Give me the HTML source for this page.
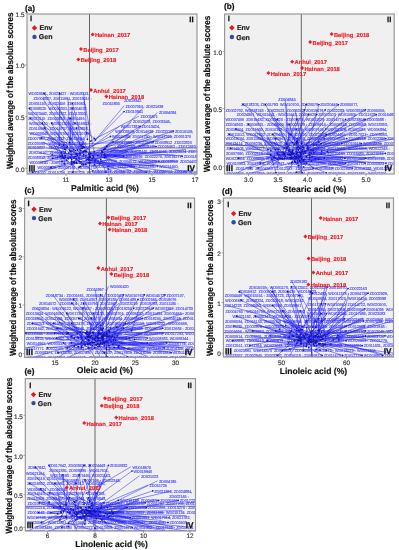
<!DOCTYPE html>
<html><head><meta charset="utf-8"><style>html,body{margin:0;padding:0;background:#fff;}svg{display:block}</style></head>
<body><svg width="399" height="550" viewBox="0 0 399 550" text-rendering="geometricPrecision" style="will-change:transform">
<rect width="399" height="550" fill="#fff"/>
<rect x="27" y="14" width="170.0" height="160.0" fill="#f0f0f0"/>
<line x1="89.5" y1="14" x2="89.5" y2="174" stroke="#666" stroke-width="1.0"/>
<line x1="27" y1="148" x2="197" y2="148" stroke="#8a8a80" stroke-width="1"/>
<svg x="27" y="14" width="170.0" height="160.0" viewBox="27 14 170.0 160.0" overflow="hidden">
<g font-family='"Liberation Sans", sans-serif' font-size="4.1" fill="#4a4aff" stroke="#4a4aff" stroke-width="0.14" transform="scale(0.91 1)">
<text x="136.3" y="102.1">ZD019342</text>
<text x="112.6" y="105.1">ZD015805</text>
<text x="138.0" y="107.5">ZD007050</text>
<text x="160.4" y="108.3">ZD021639</text>
<text x="174.7" y="114.3">ZD004084</text>
<text x="138.0" y="113.2">ZD010941</text>
<text x="154.4" y="117.8">ZD003971</text>
<text x="31.4" y="95.1">WD020511, </text>
<text x="53.9" y="95.1">ZD022427 - </text>
<text x="76.7" y="95.1">WD018313, </text>
<text x="36.9" y="100.0">ZD008927, </text>
<text x="58.4" y="100.0">ZD011691, </text>
<text x="79.5" y="100.0">ZD018010 - </text>
<text x="31.6" y="105.1">ZD001150, </text>
<text x="52.7" y="105.1">ZD022456  </text>
<text x="74.2" y="105.1">ZD019063, </text>
<text x="31.8" y="110.0">ZD008525  </text>
<text x="53.2" y="110.0">WD003301, </text>
<text x="76.0" y="110.0">ZD004532  </text>
<text x="31.1" y="115.4">WD023442, </text>
<text x="53.9" y="115.4">ZD007872, </text>
<text x="75.3" y="115.4">ZD013303, </text>
<text x="31.1" y="120.0">ZD023115  </text>
<text x="52.3" y="120.0">ZD003855  </text>
<text x="73.7" y="120.0">ZD001496, </text>
<text x="31.9" y="124.9">WD005410 - </text>
<text x="56.0" y="124.9">WD001358, </text>
<text x="78.8" y="124.9">ZD016952 - </text>
<text x="31.7" y="129.8">ZD015661 - </text>
<text x="54.5" y="129.8">ZD014737, </text>
<text x="75.9" y="129.8">WD013938, </text>
<text x="32.4" y="134.7">WD009840  </text>
<text x="55.2" y="134.7">WD007904 - </text>
<text x="79.3" y="134.7">ZD020726, </text>
<text x="30.3" y="139.6">ZD007987, </text>
<text x="51.7" y="139.6">ZD001313  </text>
<text x="73.2" y="139.6">ZD013654, </text>
<text x="30.4" y="144.5">ZD020095 - </text>
<text x="53.2" y="144.5">WD020702  </text>
<text x="76.0" y="144.5">ZD021386, </text>
<text x="30.5" y="149.4">ZD019827 - </text>
<text x="53.3" y="149.4">ZD006990 - </text>
<text x="76.1" y="149.4">ZD008483 - </text>
<text x="31.8" y="154.3">ZD021610 - </text>
<text x="54.6" y="154.3">ZD016811, </text>
<text x="75.7" y="154.3">ZD002553, </text>
<text x="30.5" y="159.2">ZD008812, </text>
<text x="51.9" y="159.2">ZD014789, </text>
<text x="73.3" y="159.2">ZD018041 - </text>
<text x="32.3" y="164.1">WD005141 - </text>
<text x="56.4" y="164.1">ZD019329, </text>
<text x="77.8" y="164.1">ZD007959 - </text>
<text x="41.2" y="169.0">WD009820, </text>
<text x="64.0" y="169.0">ZD009161, </text>
<text x="85.4" y="169.0">WD006775  </text>
<text x="31.0" y="173.9">ZD004020  </text>
<text x="52.5" y="173.9">ZD015756  </text>
<text x="73.9" y="173.9">ZD020329, </text>
<text x="95.3" y="173.9">WD016558  </text>
<text x="118.1" y="173.9">ZD002099, </text>
<text x="139.5" y="173.9">WD016801, </text>
<text x="162.3" y="173.9">ZD011449 - </text>
<text x="184.8" y="173.9">WD003466, </text>
<text x="207.6" y="173.9">ZD002457 - </text>
<text x="146.1" y="123.2">ZD012528, </text>
<text x="167.6" y="123.2">ZD003545, </text>
<text x="132.8" y="128.0">WD017381, </text>
<text x="155.6" y="128.0">ZD013424, </text>
<text x="126.6" y="132.7">WD003970, </text>
<text x="149.4" y="132.7">ZD014639  </text>
<text x="170.8" y="132.7">ZD023746, </text>
<text x="192.2" y="132.7">ZD016159, </text>
<text x="123.1" y="138.1">WD011165, </text>
<text x="145.3" y="138.1">ZD001730 - </text>
<text x="168.1" y="138.1">WD017293, </text>
<text x="190.9" y="138.1">ZD001370  </text>
<text x="125.9" y="143.5">ZD017986 - </text>
<text x="148.7" y="143.5">ZD022626, </text>
<text x="170.1" y="143.5">ZD008912  </text>
<text x="191.6" y="143.5">ZD022820  </text>
<text x="129.0" y="148.2">ZD007563 - </text>
<text x="151.8" y="148.2">ZD008195  </text>
<text x="173.2" y="148.2">ZD005462 - </text>
<text x="196.0" y="148.2">ZD012493, </text>
<text x="121.3" y="153.0">ZD006542, </text>
<text x="142.8" y="153.0">ZD016445  </text>
<text x="164.2" y="153.0">ZD014565, </text>
<text x="185.6" y="153.0">ZD023024  </text>
<text x="207.0" y="153.0">ZD011497, </text>
<text x="116.1" y="157.9">ZD020908, </text>
<text x="137.5" y="157.9">ZD019696  </text>
<text x="159.0" y="157.9">ZD022275, </text>
<text x="180.4" y="157.9">ZD014277, </text>
<text x="201.8" y="157.9">ZD001810  </text>
<text x="109.3" y="162.8">ZD002538, </text>
<text x="130.7" y="162.8">ZD004572  </text>
<text x="152.2" y="162.8">WD023429 - </text>
<text x="176.3" y="162.8">ZD016569  </text>
<text x="197.7" y="162.8">ZD024403, </text>
<text x="105.0" y="167.7">WD006868 - </text>
<text x="129.1" y="167.7">ZD012329 - </text>
<text x="151.9" y="167.7">ZD023930 - </text>
<text x="174.7" y="167.7">WD014450, </text>
<text x="103.6" y="172.5">ZD007451, </text>
<text x="125.0" y="172.5">ZD019022  </text>
<text x="146.4" y="172.5">ZD011697 - </text>
<text x="168.9" y="172.5">WD024656, </text>
<text x="191.7" y="172.5">ZD008939, </text>
</g>
<g stroke="#2020ff" stroke-width="0.5" stroke-opacity="1.0">
<line x1="95.4" y1="139.9" x2="124.1" y2="105.8"/>
<line x1="101.7" y1="150.9" x2="144.5" y2="106.6"/>
<line x1="104.5" y1="157.7" x2="157.5" y2="112.6"/>
<line x1="73.5" y1="162.3" x2="124.1" y2="111.5"/>
<line x1="90.8" y1="141.1" x2="139.0" y2="116.1"/>
<line x1="82.1" y1="148.5" x2="44.1" y2="93.4"/>
<line x1="59.2" y1="145.2" x2="59.6" y2="93.4"/>
<line x1="87.4" y1="139.3" x2="83.8" y2="93.4"/>
<line x1="79.9" y1="153.2" x2="42.6" y2="98.3"/>
<line x1="69.5" y1="142.5" x2="68.0" y2="98.3"/>
<line x1="94.2" y1="151.9" x2="83.8" y2="98.3"/>
<line x1="82.2" y1="146.8" x2="55.4" y2="103.4"/>
<line x1="83.7" y1="146.8" x2="72.4" y2="103.4"/>
<line x1="73.5" y1="149.6" x2="29.3" y2="108.3"/>
<line x1="95.9" y1="160.0" x2="58.7" y2="108.3"/>
<line x1="69.7" y1="150.6" x2="72.2" y2="108.3"/>
<line x1="76.1" y1="154.2" x2="30.9" y2="113.7"/>
<line x1="81.0" y1="145.2" x2="58.6" y2="113.7"/>
<line x1="71.4" y1="163.9" x2="73.4" y2="113.7"/>
<line x1="79.2" y1="161.4" x2="30.4" y2="118.3"/>
<line x1="80.0" y1="150.1" x2="54.1" y2="118.3"/>
<line x1="70.8" y1="138.6" x2="70.2" y2="118.3"/>
<line x1="62.5" y1="155.0" x2="42.3" y2="123.2"/>
<line x1="65.5" y1="149.6" x2="51.6" y2="123.2"/>
<line x1="94.3" y1="138.3" x2="75.1" y2="123.2"/>
<line x1="60.4" y1="156.0" x2="44.6" y2="128.1"/>
<line x1="75.4" y1="150.5" x2="56.3" y2="128.1"/>
<line x1="80.9" y1="150.5" x2="76.6" y2="128.1"/>
<line x1="84.3" y1="147.5" x2="29.7" y2="133.0"/>
<line x1="66.6" y1="147.5" x2="57.3" y2="133.0"/>
<line x1="82.5" y1="144.6" x2="86.4" y2="133.0"/>
<line x1="67.3" y1="146.4" x2="41.3" y2="137.9"/>
<line x1="77.3" y1="155.1" x2="52.4" y2="137.9"/>
<line x1="77.5" y1="150.1" x2="81.3" y2="137.9"/>
<line x1="64.4" y1="149.1" x2="44.2" y2="142.8"/>
<line x1="80.9" y1="161.8" x2="42.8" y2="142.2"/>
<line x1="80.0" y1="154.7" x2="54.6" y2="142.8"/>
<line x1="65.2" y1="152.1" x2="49.8" y2="147.7"/>
<line x1="65.4" y1="157.0" x2="61.6" y2="145.9"/>
<line x1="68.3" y1="158.6" x2="38.9" y2="152.6"/>
<line x1="90.4" y1="157.2" x2="45.6" y2="151.1"/>
<line x1="62.0" y1="161.3" x2="61.3" y2="152.6"/>
<line x1="52.7" y1="158.3" x2="87.1" y2="151.4"/>
<line x1="68.7" y1="153.2" x2="42.3" y2="157.5"/>
<line x1="73.9" y1="157.9" x2="56.9" y2="157.5"/>
<line x1="70.6" y1="157.8" x2="59.1" y2="156.7"/>
<line x1="52.1" y1="154.8" x2="79.6" y2="157.5"/>
<line x1="84.4" y1="150.9" x2="74.6" y2="157.2"/>
<line x1="62.3" y1="155.9" x2="41.4" y2="162.4"/>
<line x1="102.5" y1="151.9" x2="39.8" y2="162.3"/>
<line x1="66.7" y1="160.2" x2="55.6" y2="162.4"/>
<line x1="65.1" y1="155.6" x2="58.4" y2="161.7"/>
<line x1="71.8" y1="163.5" x2="74.3" y2="162.4"/>
<line x1="83.7" y1="154.6" x2="88.8" y2="161.5"/>
<line x1="64.4" y1="163.8" x2="50.9" y2="167.3"/>
<line x1="71.7" y1="159.3" x2="72.6" y2="167.3"/>
<line x1="64.0" y1="158.5" x2="65.2" y2="166.3"/>
<line x1="85.9" y1="164.2" x2="79.0" y2="167.3"/>
<line x1="76.8" y1="163.2" x2="32.6" y2="172.2"/>
<line x1="89.5" y1="156.7" x2="43.8" y2="171.2"/>
<line x1="76.3" y1="162.4" x2="60.3" y2="172.2"/>
<line x1="74.2" y1="161.9" x2="72.9" y2="172.2"/>
<line x1="63.4" y1="157.5" x2="80.8" y2="171.7"/>
<line x1="89.2" y1="154.4" x2="99.3" y2="172.2"/>
<line x1="100.7" y1="159.5" x2="106.0" y2="172.2"/>
<line x1="94.9" y1="161.2" x2="125.5" y2="172.2"/>
<line x1="86.0" y1="151.3" x2="142.4" y2="170.4"/>
<line x1="97.8" y1="155.8" x2="146.2" y2="172.2"/>
<line x1="88.9" y1="160.3" x2="167.7" y2="171.4"/>
<line x1="115.1" y1="156.0" x2="187.4" y2="172.2"/>
<line x1="103.7" y1="149.8" x2="131.5" y2="121.5"/>
<line x1="85.7" y1="151.2" x2="119.4" y2="126.3"/>
<line x1="92.9" y1="155.7" x2="140.1" y2="126.3"/>
<line x1="90.5" y1="153.8" x2="134.5" y2="131.0"/>
<line x1="104.7" y1="154.2" x2="154.0" y2="131.0"/>
<line x1="93.5" y1="157.2" x2="173.4" y2="131.0"/>
<line x1="76.9" y1="154.0" x2="110.5" y2="136.4"/>
<line x1="70.7" y1="151.5" x2="128.8" y2="134.9"/>
<line x1="105.1" y1="148.4" x2="130.7" y2="136.4"/>
<line x1="102.2" y1="152.3" x2="151.5" y2="136.4"/>
<line x1="94.2" y1="164.8" x2="166.8" y2="135.3"/>
<line x1="104.1" y1="155.0" x2="172.2" y2="136.4"/>
<line x1="88.5" y1="157.7" x2="113.1" y2="141.8"/>
<line x1="63.4" y1="144.8" x2="133.8" y2="141.8"/>
<line x1="106.8" y1="146.2" x2="151.7" y2="139.7"/>
<line x1="81.8" y1="164.2" x2="153.3" y2="141.8"/>
<line x1="80.1" y1="163.0" x2="115.9" y2="146.5"/>
<line x1="71.1" y1="154.9" x2="135.6" y2="144.8"/>
<line x1="92.6" y1="158.5" x2="148.2" y2="144.6"/>
<line x1="88.8" y1="153.8" x2="156.1" y2="146.5"/>
<line x1="71.4" y1="161.7" x2="108.9" y2="151.3"/>
<line x1="105.0" y1="156.2" x2="128.4" y2="151.3"/>
<line x1="86.1" y1="160.0" x2="140.9" y2="150.3"/>
<line x1="83.3" y1="164.7" x2="158.0" y2="150.7"/>
<line x1="105.8" y1="156.8" x2="186.0" y2="149.4"/>
<line x1="85.9" y1="155.5" x2="199.6" y2="150.9"/>
<line x1="91.0" y1="160.5" x2="104.2" y2="156.2"/>
<line x1="83.0" y1="151.7" x2="123.7" y2="156.2"/>
<line x1="87.4" y1="159.4" x2="136.6" y2="154.1"/>
<line x1="89.5" y1="155.0" x2="174.5" y2="154.8"/>
<line x1="104.8" y1="149.5" x2="182.1" y2="156.2"/>
<line x1="75.3" y1="156.4" x2="98.0" y2="161.1"/>
<line x1="101.5" y1="155.0" x2="158.9" y2="161.1"/>
<line x1="80.2" y1="166.4" x2="174.2" y2="160.4"/>
<line x1="108.0" y1="166.3" x2="178.4" y2="161.1"/>
<line x1="78.9" y1="158.4" x2="94.0" y2="166.0"/>
<line x1="99.6" y1="163.7" x2="116.0" y2="166.0"/>
<line x1="89.0" y1="162.9" x2="132.0" y2="165.6"/>
<line x1="108.2" y1="169.1" x2="136.7" y2="166.0"/>
<line x1="90.4" y1="162.5" x2="154.2" y2="165.4"/>
<line x1="89.3" y1="162.5" x2="157.5" y2="166.0"/>
<line x1="76.1" y1="158.9" x2="92.8" y2="170.8"/>
<line x1="88.4" y1="159.2" x2="112.3" y2="170.8"/>
<line x1="83.2" y1="156.0" x2="131.7" y2="170.8"/>
</g>
<g fill="#1414a8">
<circle cx="95.4" cy="139.9" r="0.85"/>
<circle cx="101.7" cy="150.9" r="0.85"/>
<circle cx="104.5" cy="157.7" r="0.85"/>
<circle cx="124.1" cy="111.5" r="0.85"/>
<circle cx="73.5" cy="162.3" r="0.85"/>
<circle cx="90.8" cy="141.1" r="0.85"/>
<circle cx="44.1" cy="93.4" r="0.85"/>
<circle cx="82.1" cy="148.5" r="0.85"/>
<circle cx="59.6" cy="93.4" r="0.85"/>
<circle cx="59.2" cy="145.2" r="0.85"/>
<circle cx="87.4" cy="139.3" r="0.85"/>
<circle cx="79.9" cy="153.2" r="0.85"/>
<circle cx="69.5" cy="142.5" r="0.85"/>
<circle cx="94.2" cy="151.9" r="0.85"/>
<circle cx="82.2" cy="146.8" r="0.85"/>
<circle cx="72.4" cy="103.4" r="0.85"/>
<circle cx="83.7" cy="146.8" r="0.85"/>
<circle cx="29.3" cy="108.3" r="0.85"/>
<circle cx="73.5" cy="149.6" r="0.85"/>
<circle cx="95.9" cy="160.0" r="0.85"/>
<circle cx="72.2" cy="108.3" r="0.85"/>
<circle cx="69.7" cy="150.6" r="0.85"/>
<circle cx="76.1" cy="154.2" r="0.85"/>
<circle cx="81.0" cy="145.2" r="0.85"/>
<circle cx="71.4" cy="163.9" r="0.85"/>
<circle cx="30.4" cy="118.3" r="0.85"/>
<circle cx="79.2" cy="161.4" r="0.85"/>
<circle cx="80.0" cy="150.1" r="0.85"/>
<circle cx="70.2" cy="118.3" r="0.85"/>
<circle cx="70.8" cy="138.6" r="0.85"/>
<circle cx="42.3" cy="123.2" r="0.85"/>
<circle cx="62.5" cy="155.0" r="0.85"/>
<circle cx="51.6" cy="123.2" r="0.85"/>
<circle cx="65.5" cy="149.6" r="0.85"/>
<circle cx="75.1" cy="123.2" r="0.85"/>
<circle cx="94.3" cy="138.3" r="0.85"/>
<circle cx="44.6" cy="128.1" r="0.85"/>
<circle cx="60.4" cy="156.0" r="0.85"/>
<circle cx="75.4" cy="150.5" r="0.85"/>
<circle cx="76.6" cy="128.1" r="0.85"/>
<circle cx="80.9" cy="150.5" r="0.85"/>
<circle cx="84.3" cy="147.5" r="0.85"/>
<circle cx="66.6" cy="147.5" r="0.85"/>
<circle cx="86.4" cy="133.0" r="0.85"/>
<circle cx="82.5" cy="144.6" r="0.85"/>
<circle cx="41.3" cy="137.9" r="0.85"/>
<circle cx="67.3" cy="146.4" r="0.85"/>
<circle cx="77.3" cy="155.1" r="0.85"/>
<circle cx="77.5" cy="150.1" r="0.85"/>
<circle cx="64.4" cy="149.1" r="0.85"/>
<circle cx="80.9" cy="161.8" r="0.85"/>
<circle cx="80.0" cy="154.7" r="0.85"/>
<circle cx="65.2" cy="152.1" r="0.85"/>
<circle cx="65.4" cy="157.0" r="0.85"/>
<circle cx="68.3" cy="158.6" r="0.85"/>
<circle cx="90.4" cy="157.2" r="0.85"/>
<circle cx="61.3" cy="152.6" r="0.85"/>
<circle cx="62.0" cy="161.3" r="0.85"/>
<circle cx="52.7" cy="158.3" r="0.85"/>
<circle cx="68.7" cy="153.2" r="0.85"/>
<circle cx="73.9" cy="157.9" r="0.85"/>
<circle cx="70.6" cy="157.8" r="0.85"/>
<circle cx="52.1" cy="154.8" r="0.85"/>
<circle cx="84.4" cy="150.9" r="0.85"/>
<circle cx="62.3" cy="155.9" r="0.85"/>
<circle cx="102.5" cy="151.9" r="0.85"/>
<circle cx="66.7" cy="160.2" r="0.85"/>
<circle cx="65.1" cy="155.6" r="0.85"/>
<circle cx="74.3" cy="162.4" r="0.85"/>
<circle cx="71.8" cy="163.5" r="0.85"/>
<circle cx="83.7" cy="154.6" r="0.85"/>
<circle cx="50.9" cy="167.3" r="0.85"/>
<circle cx="64.4" cy="163.8" r="0.85"/>
<circle cx="71.7" cy="159.3" r="0.85"/>
<circle cx="64.0" cy="158.5" r="0.85"/>
<circle cx="79.0" cy="167.3" r="0.85"/>
<circle cx="85.9" cy="164.2" r="0.85"/>
<circle cx="32.6" cy="172.2" r="0.85"/>
<circle cx="76.8" cy="163.2" r="0.85"/>
<circle cx="89.5" cy="156.7" r="0.85"/>
<circle cx="76.3" cy="162.4" r="0.85"/>
<circle cx="72.9" cy="172.2" r="0.85"/>
<circle cx="74.2" cy="161.9" r="0.85"/>
<circle cx="63.4" cy="157.5" r="0.85"/>
<circle cx="89.2" cy="154.4" r="0.85"/>
<circle cx="106.0" cy="172.2" r="0.85"/>
<circle cx="100.7" cy="159.5" r="0.85"/>
<circle cx="94.9" cy="161.2" r="0.85"/>
<circle cx="86.0" cy="151.3" r="0.85"/>
<circle cx="146.2" cy="172.2" r="0.85"/>
<circle cx="97.8" cy="155.8" r="0.85"/>
<circle cx="88.9" cy="160.3" r="0.85"/>
<circle cx="115.1" cy="156.0" r="0.85"/>
<circle cx="103.7" cy="149.8" r="0.85"/>
<circle cx="85.7" cy="151.2" r="0.85"/>
<circle cx="140.1" cy="126.3" r="0.85"/>
<circle cx="92.9" cy="155.7" r="0.85"/>
<circle cx="90.5" cy="153.8" r="0.85"/>
<circle cx="104.7" cy="154.2" r="0.85"/>
<circle cx="173.4" cy="131.0" r="0.85"/>
<circle cx="93.5" cy="157.2" r="0.85"/>
<circle cx="110.5" cy="136.4" r="0.85"/>
<circle cx="76.9" cy="154.0" r="0.85"/>
<circle cx="70.7" cy="151.5" r="0.85"/>
<circle cx="105.1" cy="148.4" r="0.85"/>
<circle cx="102.2" cy="152.3" r="0.85"/>
<circle cx="94.2" cy="164.8" r="0.85"/>
<circle cx="104.1" cy="155.0" r="0.85"/>
<circle cx="113.1" cy="141.8" r="0.85"/>
<circle cx="88.5" cy="157.7" r="0.85"/>
<circle cx="63.4" cy="144.8" r="0.85"/>
<circle cx="106.8" cy="146.2" r="0.85"/>
<circle cx="153.3" cy="141.8" r="0.85"/>
<circle cx="81.8" cy="164.2" r="0.85"/>
<circle cx="80.1" cy="163.0" r="0.85"/>
<circle cx="71.1" cy="154.9" r="0.85"/>
<circle cx="92.6" cy="158.5" r="0.85"/>
<circle cx="156.1" cy="146.5" r="0.85"/>
<circle cx="88.8" cy="153.8" r="0.85"/>
<circle cx="71.4" cy="161.7" r="0.85"/>
<circle cx="105.0" cy="156.2" r="0.85"/>
<circle cx="86.1" cy="160.0" r="0.85"/>
<circle cx="83.3" cy="164.7" r="0.85"/>
<circle cx="105.8" cy="156.8" r="0.85"/>
<circle cx="85.9" cy="155.5" r="0.85"/>
<circle cx="91.0" cy="160.5" r="0.85"/>
<circle cx="123.7" cy="156.2" r="0.85"/>
<circle cx="83.0" cy="151.7" r="0.85"/>
<circle cx="87.4" cy="159.4" r="0.85"/>
<circle cx="89.5" cy="155.0" r="0.85"/>
<circle cx="182.1" cy="156.2" r="0.85"/>
<circle cx="104.8" cy="149.5" r="0.85"/>
<circle cx="98.0" cy="161.1" r="0.85"/>
<circle cx="75.3" cy="156.4" r="0.85"/>
<circle cx="158.9" cy="161.1" r="0.85"/>
<circle cx="101.5" cy="155.0" r="0.85"/>
<circle cx="80.2" cy="166.4" r="0.85"/>
<circle cx="108.0" cy="166.3" r="0.85"/>
<circle cx="78.9" cy="158.4" r="0.85"/>
<circle cx="99.6" cy="163.7" r="0.85"/>
<circle cx="89.0" cy="162.9" r="0.85"/>
<circle cx="108.2" cy="169.1" r="0.85"/>
<circle cx="90.4" cy="162.5" r="0.85"/>
<circle cx="157.5" cy="166.0" r="0.85"/>
<circle cx="89.3" cy="162.5" r="0.85"/>
<circle cx="92.8" cy="170.8" r="0.85"/>
<circle cx="76.1" cy="158.9" r="0.85"/>
<circle cx="88.4" cy="159.2" r="0.85"/>
<circle cx="83.2" cy="156.0" r="0.85"/>
</g>
</svg>
<rect x="27" y="14" width="170.0" height="160.0" fill="none" stroke="#959595" stroke-width="1.15"/>
<path d="M92.6 32.4L94.6 34.4L92.6 36.4L90.6 34.4Z" fill="#ee1c24"/>
<text x="94.89999999999999" y="37.0" font-family='"Liberation Sans", sans-serif' font-weight="bold" font-size="5.8" fill="#ee1c24" stroke="#ee1c24" stroke-width="0.15">Hainan_2017</text>
<path d="M81 47.0L83.0 49L81 51.0L79.0 49Z" fill="#ee1c24"/>
<text x="83.3" y="51.6" font-family='"Liberation Sans", sans-serif' font-weight="bold" font-size="5.8" fill="#ee1c24" stroke="#ee1c24" stroke-width="0.15">Beijing_2017</text>
<path d="M78.4 57.4L80.4 59.4L78.4 61.4L76.4 59.4Z" fill="#ee1c24"/>
<text x="80.7" y="62.0" font-family='"Liberation Sans", sans-serif' font-weight="bold" font-size="5.8" fill="#ee1c24" stroke="#ee1c24" stroke-width="0.15">Beijing_2018</text>
<path d="M91 88.0L93.0 90L91 92.0L89.0 90Z" fill="#ee1c24"/>
<text x="93.3" y="92.6" font-family='"Liberation Sans", sans-serif' font-weight="bold" font-size="5.8" fill="#ee1c24" stroke="#ee1c24" stroke-width="0.15">Anhui_2017</text>
<path d="M106.4 94.6L108.4 96.6L106.4 98.6L104.4 96.6Z" fill="#ee1c24"/>
<text x="108.7" y="99.19999999999999" font-family='"Liberation Sans", sans-serif' font-weight="bold" font-size="5.8" fill="#ee1c24" stroke="#ee1c24" stroke-width="0.15">Hainan_2018</text>
<text x="29.9" y="21.4" font-size="7.6" font-family='"Liberation Sans", sans-serif' font-weight="bold" fill="#111" stroke="#111" stroke-width="0.25">I</text>
<text x="193.6" y="21.5" text-anchor="end" font-size="7.6" font-family='"Liberation Sans", sans-serif' font-weight="bold" fill="#111" stroke="#111" stroke-width="0.25">II</text>
<text x="28.5" y="171" font-size="8.2" font-family='"Liberation Sans", sans-serif' font-weight="bold" fill="#111" stroke="#111" stroke-width="0.25">III</text>
<text x="195" y="171" text-anchor="end" font-size="8.2" font-family='"Liberation Sans", sans-serif' font-weight="bold" fill="#111" stroke="#111" stroke-width="0.25">IV</text>
<path d="M34.5 25.2L37.2 27.9L34.5 30.599999999999998L31.8 27.9Z" fill="#e8141c"/>
<text x="39.5" y="30.4" font-family='"Liberation Sans", sans-serif' font-weight="bold" font-size="7" fill="#222" stroke="#222" stroke-width="0.2">Env</text>
<circle cx="34.5" cy="36.9" r="2.2" fill="#2b4ba6"/>
<text x="38.8" y="39.4" font-family='"Liberation Sans", sans-serif' font-weight="bold" font-size="7" fill="#222" stroke="#222" stroke-width="0.2">Gen</text>
<line x1="66" y1="174" x2="66" y2="176" stroke="#777" stroke-width="0.6"/>
<text x="66" y="181.8" text-anchor="middle" font-family='"Liberation Sans", sans-serif' font-size="6.4" fill="#404040" stroke="#404040" stroke-width="0.2">11</text>
<line x1="109" y1="174" x2="109" y2="176" stroke="#777" stroke-width="0.6"/>
<text x="109" y="181.8" text-anchor="middle" font-family='"Liberation Sans", sans-serif' font-size="6.4" fill="#404040" stroke="#404040" stroke-width="0.2">13</text>
<line x1="152" y1="174" x2="152" y2="176" stroke="#777" stroke-width="0.6"/>
<text x="152" y="181.8" text-anchor="middle" font-family='"Liberation Sans", sans-serif' font-size="6.4" fill="#404040" stroke="#404040" stroke-width="0.2">15</text>
<line x1="195" y1="174" x2="195" y2="176" stroke="#777" stroke-width="0.6"/>
<text x="195" y="181.8" text-anchor="middle" font-family='"Liberation Sans", sans-serif' font-size="6.4" fill="#404040" stroke="#404040" stroke-width="0.2">17</text>
<line x1="25" y1="168.3" x2="27" y2="168.3" stroke="#777" stroke-width="0.6"/>
<text x="24.5" y="171.5" text-anchor="end" font-family='"Liberation Sans", sans-serif' font-size="6.4" fill="#404040" stroke="#404040" stroke-width="0.2">0.0</text>
<line x1="25" y1="116.65" x2="27" y2="116.65" stroke="#777" stroke-width="0.6"/>
<text x="24.5" y="119.85000000000001" text-anchor="end" font-family='"Liberation Sans", sans-serif' font-size="6.4" fill="#404040" stroke="#404040" stroke-width="0.2">0.5</text>
<line x1="25" y1="65" x2="27" y2="65" stroke="#777" stroke-width="0.6"/>
<text x="24.5" y="68.2" text-anchor="end" font-family='"Liberation Sans", sans-serif' font-size="6.4" fill="#404040" stroke="#404040" stroke-width="0.2">1.0</text>
<line x1="25" y1="13.4" x2="27" y2="13.4" stroke="#777" stroke-width="0.6"/>
<text x="24.5" y="16.6" text-anchor="end" font-family='"Liberation Sans", sans-serif' font-size="6.4" fill="#404040" stroke="#404040" stroke-width="0.2">1.5</text>
<text x="25" y="10.7" font-family='"Liberation Sans", sans-serif' font-weight="bold" font-size="8.2" fill="#111" stroke="#111" stroke-width="0.2">(a)</text>
<text x="105" y="190.5" text-anchor="middle" font-family='"Liberation Sans", sans-serif' font-weight="bold" font-size="8.55" fill="#111" stroke="#111" stroke-width="0.15">Palmitic acid (%)</text>
<text transform="translate(13.1 90.8) scale(1.12 1) rotate(-90)" text-anchor="middle" font-family='"Liberation Sans", sans-serif' font-weight="bold" font-size="8.05" fill="#111" stroke="#111" stroke-width="0.15">Weighted average of the absolute scores</text>
<rect x="224.6" y="14" width="169.6" height="160.0" fill="#f0f0f0"/>
<line x1="301.3" y1="14" x2="301.3" y2="174" stroke="#666" stroke-width="1.0"/>
<line x1="224.6" y1="145.5" x2="394.2" y2="145.5" stroke="#8a8a80" stroke-width="1"/>
<svg x="224.6" y="14" width="169.6" height="160.0" viewBox="224.6 14 169.6 160.0" overflow="hidden">
<g font-family='"Liberation Sans", sans-serif' font-size="4.1" fill="#4a4aff" stroke="#4a4aff" stroke-width="0.14" transform="scale(0.91 1)">
<text x="305.9" y="100.8">ZD004845</text>
<text x="265.0" y="106.2">ZD018203, </text>
<text x="286.4" y="106.2">ZD001793  </text>
<text x="307.8" y="106.2">WD010700, </text>
<text x="330.6" y="106.2">ZD020579  </text>
<text x="352.0" y="106.2">ZD020445, </text>
<text x="373.5" y="106.2">ZD005077, </text>
<text x="247.8" y="111.5">ZD002702, </text>
<text x="269.2" y="111.5">WD018243 - </text>
<text x="293.4" y="111.5">ZD022523, </text>
<text x="314.8" y="111.5">ZD003242  </text>
<text x="336.2" y="111.5">ZD019479 - </text>
<text x="359.0" y="111.5">ZD022283, </text>
<text x="380.4" y="111.5">WD003350, </text>
<text x="403.2" y="111.5">ZD005056, </text>
<text x="260.3" y="116.2">ZD024861  </text>
<text x="281.8" y="116.2">WD011641 - </text>
<text x="305.6" y="116.2">WD015443, </text>
<text x="328.4" y="116.2">ZD005629  </text>
<text x="349.8" y="116.2">ZD002503  </text>
<text x="371.2" y="116.2">WD015905  </text>
<text x="394.0" y="116.2">ZD011628, </text>
<text x="415.1" y="116.2">ZD016487 - </text>
<text x="247.7" y="121.1">WD007406  </text>
<text x="270.5" y="121.1">ZD016482, </text>
<text x="291.9" y="121.1">ZD021820 - </text>
<text x="314.7" y="121.1">ZD007275, </text>
<text x="336.1" y="121.1">WD011029  </text>
<text x="358.6" y="121.1">ZD014774 - </text>
<text x="381.4" y="121.1">ZD023804, </text>
<text x="402.8" y="121.1">ZD003588 - </text>
<text x="247.7" y="126.0">ZD004953 - </text>
<text x="270.5" y="126.0">ZD006931 - </text>
<text x="293.3" y="126.0">ZD009955  </text>
<text x="314.7" y="126.0">WD020329 - </text>
<text x="338.9" y="126.0">ZD006916 - </text>
<text x="361.7" y="126.0">ZD005343, </text>
<text x="383.1" y="126.0">ZD003498, </text>
<text x="404.5" y="126.0">WD018393, </text>
<text x="248.4" y="130.7">ZD018604  </text>
<text x="269.8" y="130.7">ZD019630, </text>
<text x="291.2" y="130.7">ZD010343 - </text>
<text x="314.0" y="130.7">ZD006876  </text>
<text x="335.4" y="130.7">WD007106 - </text>
<text x="359.6" y="130.7">WD021378, </text>
<text x="382.4" y="130.7">ZD001087, </text>
<text x="403.8" y="130.7">WD006894, </text>
<text x="249.6" y="136.0">ZD011512, </text>
<text x="270.7" y="136.0">WD017932  </text>
<text x="293.5" y="136.0">ZD020460 - </text>
<text x="316.3" y="136.0">WD020925, </text>
<text x="339.1" y="136.0">ZD022903, </text>
<text x="360.5" y="136.0">ZD024465 - </text>
<text x="383.3" y="136.0">ZD017027 - </text>
<text x="406.1" y="136.0">ZD009563, </text>
<text x="247.7" y="140.3">WD019764, </text>
<text x="270.5" y="140.3">ZD011651 - </text>
<text x="293.0" y="140.3">WD020941, </text>
<text x="315.8" y="140.3">ZD017505, </text>
<text x="337.2" y="140.3">ZD002013, </text>
<text x="358.6" y="140.3">WD006839 - </text>
<text x="382.8" y="140.3">ZD002768  </text>
<text x="404.2" y="140.3">ZD002386  </text>
<text x="425.6" y="140.3">ZD020290, </text>
<text x="247.4" y="145.2">ZD013414  </text>
<text x="268.9" y="145.2">ZD006236, </text>
<text x="290.3" y="145.2">ZD003003  </text>
<text x="311.7" y="145.2">ZD016297  </text>
<text x="333.1" y="145.2">ZD024060, </text>
<text x="354.6" y="145.2">ZD017041 - </text>
<text x="377.4" y="145.2">ZD015919, </text>
<text x="398.8" y="145.2">WD008884, </text>
<text x="421.6" y="145.2">ZD003995, </text>
<text x="248.5" y="150.1">ZD014908, </text>
<text x="269.9" y="150.1">WD023277 - </text>
<text x="294.1" y="150.1">ZD009297, </text>
<text x="315.5" y="150.1">ZD014708, </text>
<text x="336.9" y="150.1">WD008446  </text>
<text x="359.7" y="150.1">ZD012044 - </text>
<text x="382.5" y="150.1">WD006256, </text>
<text x="405.3" y="150.1">WD012246 - </text>
<text x="248.3" y="155.0">ZD007990, </text>
<text x="269.7" y="155.0">ZD002613 - </text>
<text x="292.5" y="155.0">ZD012383 - </text>
<text x="315.3" y="155.0">ZD019007 - </text>
<text x="338.1" y="155.0">ZD007673, </text>
<text x="359.5" y="155.0">ZD020460, </text>
<text x="380.9" y="155.0">ZD016485, </text>
<text x="402.3" y="155.0">ZD021534 - </text>
<text x="425.1" y="155.0">ZD007703, </text>
<text x="248.2" y="159.9">WD023654  </text>
<text x="271.0" y="159.9">ZD009995, </text>
<text x="292.4" y="159.9">ZD009596, </text>
<text x="313.8" y="159.9">ZD009802, </text>
<text x="335.2" y="159.9">ZD002875 - </text>
<text x="358.0" y="159.9">ZD005492 - </text>
<text x="380.8" y="159.9">WD001668  </text>
<text x="403.6" y="159.9">ZD015743, </text>
<text x="425.0" y="159.9">ZD011657  </text>
<text x="248.9" y="164.8">WD010903, </text>
<text x="271.7" y="164.8">ZD017004, </text>
<text x="293.2" y="164.8">ZD005943 - </text>
<text x="315.9" y="164.8">WD007832  </text>
<text x="338.7" y="164.8">ZD014895, </text>
<text x="360.2" y="164.8">ZD017939  </text>
<text x="381.6" y="164.8">ZD024772, </text>
<text x="403.0" y="164.8">ZD005823 - </text>
<text x="425.8" y="164.8">ZD018530, </text>
<text x="259.1" y="169.7">ZD017935  </text>
<text x="280.6" y="169.7">ZD004363  </text>
<text x="302.0" y="169.7">ZD012303 - </text>
<text x="324.8" y="169.7">ZD002333, </text>
<text x="346.2" y="169.7">ZD019544, </text>
<text x="367.6" y="169.7">ZD022640, </text>
<text x="389.0" y="169.7">ZD019288  </text>
<text x="410.5" y="169.7">WD013261 - </text>
<text x="249.0" y="174.5">ZD003945, </text>
<text x="270.4" y="174.5">WD013859, </text>
<text x="293.2" y="174.5">WD017053, </text>
<text x="316.0" y="174.5">ZD010324, </text>
<text x="337.4" y="174.5">ZD008262 - </text>
<text x="360.2" y="174.5">ZD007616, </text>
<text x="381.6" y="174.5">ZD012492 - </text>
<text x="404.4" y="174.5">WD012201, </text>
</g>
<g stroke="#2020ff" stroke-width="0.5" stroke-opacity="1.0">
<line x1="290.5" y1="158.7" x2="285.1" y2="99.1"/>
<line x1="307.1" y1="145.4" x2="243.0" y2="104.5"/>
<line x1="287.0" y1="143.9" x2="265.3" y2="104.5"/>
<line x1="286.1" y1="148.0" x2="286.3" y2="104.5"/>
<line x1="296.8" y1="143.7" x2="306.2" y2="104.5"/>
<line x1="307.9" y1="147.2" x2="318.9" y2="104.5"/>
<line x1="297.0" y1="141.2" x2="338.4" y2="104.5"/>
<line x1="279.1" y1="154.9" x2="249.8" y2="109.8"/>
<line x1="288.0" y1="146.7" x2="271.0" y2="109.8"/>
<line x1="302.9" y1="147.2" x2="295.0" y2="109.8"/>
<line x1="286.3" y1="143.8" x2="304.5" y2="109.8"/>
<line x1="298.3" y1="146.8" x2="325.2" y2="109.8"/>
<line x1="307.1" y1="148.7" x2="344.7" y2="109.8"/>
<line x1="299.3" y1="147.9" x2="365.4" y2="109.8"/>
<line x1="297.6" y1="141.4" x2="268.7" y2="114.5"/>
<line x1="285.3" y1="156.4" x2="292.8" y2="114.5"/>
<line x1="283.9" y1="153.5" x2="308.5" y2="114.5"/>
<line x1="294.3" y1="144.4" x2="316.8" y2="114.5"/>
<line x1="303.1" y1="161.0" x2="336.3" y2="114.5"/>
<line x1="309.8" y1="152.8" x2="357.1" y2="114.5"/>
<line x1="311.0" y1="149.8" x2="376.3" y2="114.5"/>
<line x1="296.8" y1="141.9" x2="277.1" y2="119.4"/>
<line x1="279.9" y1="158.2" x2="296.8" y2="119.4"/>
<line x1="300.4" y1="152.9" x2="324.8" y2="119.4"/>
<line x1="318.8" y1="141.9" x2="345.6" y2="119.4"/>
<line x1="289.4" y1="151.1" x2="365.1" y2="119.4"/>
<line x1="275.3" y1="149.8" x2="248.5" y2="124.3"/>
<line x1="292.4" y1="142.7" x2="273.8" y2="124.3"/>
<line x1="297.0" y1="147.6" x2="289.1" y2="124.3"/>
<line x1="291.0" y1="154.9" x2="306.9" y2="124.3"/>
<line x1="300.7" y1="148.4" x2="327.6" y2="124.3"/>
<line x1="302.6" y1="149.5" x2="347.1" y2="124.3"/>
<line x1="313.0" y1="150.6" x2="366.6" y2="124.3"/>
<line x1="292.6" y1="150.3" x2="235.6" y2="129.0"/>
<line x1="267.9" y1="149.6" x2="258.1" y2="129.0"/>
<line x1="292.4" y1="151.6" x2="296.3" y2="129.0"/>
<line x1="296.0" y1="151.1" x2="303.7" y2="129.0"/>
<line x1="297.7" y1="160.8" x2="325.7" y2="129.0"/>
<line x1="296.7" y1="143.0" x2="346.5" y2="129.0"/>
<line x1="316.4" y1="144.8" x2="365.9" y2="129.0"/>
<line x1="275.7" y1="157.9" x2="229.3" y2="134.3"/>
<line x1="283.2" y1="152.3" x2="253.8" y2="134.3"/>
<line x1="293.8" y1="153.6" x2="255.7" y2="132.6"/>
<line x1="296.7" y1="157.7" x2="272.8" y2="134.3"/>
<line x1="303.6" y1="147.6" x2="274.0" y2="132.4"/>
<line x1="303.1" y1="153.6" x2="290.7" y2="134.3"/>
<line x1="308.0" y1="148.8" x2="326.5" y2="134.3"/>
<line x1="321.6" y1="151.3" x2="368.0" y2="134.3"/>
<line x1="289.3" y1="154.8" x2="383.8" y2="132.9"/>
<line x1="286.9" y1="148.1" x2="258.2" y2="138.6"/>
<line x1="309.8" y1="154.9" x2="275.6" y2="138.6"/>
<line x1="284.5" y1="158.2" x2="273.5" y2="136.6"/>
<line x1="296.8" y1="156.6" x2="297.1" y2="138.6"/>
<line x1="296.8" y1="152.7" x2="305.3" y2="138.6"/>
<line x1="298.1" y1="155.2" x2="324.8" y2="138.6"/>
<line x1="284.9" y1="153.4" x2="333.5" y2="137.2"/>
<line x1="299.5" y1="152.1" x2="346.8" y2="138.6"/>
<line x1="304.8" y1="151.3" x2="360.2" y2="138.0"/>
<line x1="313.6" y1="145.1" x2="366.3" y2="138.6"/>
<line x1="309.7" y1="157.4" x2="385.8" y2="138.6"/>
<line x1="321.2" y1="153.9" x2="398.8" y2="137.7"/>
<line x1="278.4" y1="149.4" x2="226.6" y2="143.5"/>
<line x1="273.6" y1="157.6" x2="260.2" y2="143.5"/>
<line x1="295.3" y1="162.2" x2="267.4" y2="143.5"/>
<line x1="282.4" y1="159.1" x2="273.8" y2="141.9"/>
<line x1="293.7" y1="157.6" x2="284.7" y2="143.5"/>
<line x1="281.9" y1="158.4" x2="290.5" y2="141.9"/>
<line x1="296.5" y1="154.6" x2="301.7" y2="143.5"/>
<line x1="312.0" y1="156.8" x2="321.2" y2="143.5"/>
<line x1="291.7" y1="154.0" x2="341.9" y2="143.5"/>
<line x1="299.8" y1="157.3" x2="361.4" y2="143.5"/>
<line x1="300.8" y1="153.2" x2="382.1" y2="143.5"/>
<line x1="292.0" y1="158.2" x2="230.5" y2="148.4"/>
<line x1="292.1" y1="154.1" x2="249.3" y2="148.4"/>
<line x1="294.6" y1="156.2" x2="297.5" y2="148.4"/>
<line x1="299.4" y1="156.3" x2="305.1" y2="148.4"/>
<line x1="287.4" y1="154.3" x2="325.8" y2="148.4"/>
<line x1="302.2" y1="151.1" x2="367.3" y2="148.4"/>
<line x1="327.3" y1="151.4" x2="387.6" y2="146.3"/>
<line x1="295.3" y1="158.4" x2="273.3" y2="153.3"/>
<line x1="270.8" y1="150.7" x2="293.7" y2="153.3"/>
<line x1="300.8" y1="155.9" x2="306.1" y2="153.3"/>
<line x1="292.4" y1="151.9" x2="318.3" y2="151.7"/>
<line x1="295.8" y1="156.9" x2="325.6" y2="153.3"/>
<line x1="303.2" y1="159.7" x2="345.1" y2="153.3"/>
<line x1="313.6" y1="152.5" x2="384.3" y2="151.7"/>
<line x1="299.6" y1="160.7" x2="385.4" y2="153.3"/>
<line x1="288.8" y1="150.8" x2="238.5" y2="158.2"/>
<line x1="284.6" y1="154.5" x2="253.1" y2="158.2"/>
<line x1="301.7" y1="158.9" x2="265.8" y2="158.0"/>
<line x1="304.5" y1="159.3" x2="269.5" y2="158.2"/>
<line x1="284.1" y1="154.7" x2="273.5" y2="156.7"/>
<line x1="284.1" y1="148.1" x2="298.3" y2="158.2"/>
<line x1="277.4" y1="154.1" x2="303.6" y2="158.2"/>
<line x1="298.6" y1="165.6" x2="321.3" y2="156.8"/>
<line x1="297.2" y1="163.1" x2="324.3" y2="158.2"/>
<line x1="305.0" y1="153.1" x2="343.0" y2="156.8"/>
<line x1="311.4" y1="153.1" x2="345.0" y2="158.2"/>
<line x1="291.6" y1="157.2" x2="365.8" y2="158.2"/>
<line x1="296.4" y1="172.2" x2="375.3" y2="156.7"/>
<line x1="306.3" y1="156.6" x2="385.3" y2="158.2"/>
<line x1="274.2" y1="156.9" x2="240.7" y2="162.6"/>
<line x1="287.2" y1="158.1" x2="260.1" y2="163.1"/>
<line x1="271.8" y1="159.6" x2="280.1" y2="163.1"/>
<line x1="289.5" y1="149.3" x2="301.3" y2="163.1"/>
<line x1="296.5" y1="154.3" x2="306.7" y2="163.1"/>
<line x1="300.0" y1="160.9" x2="326.2" y2="163.1"/>
<line x1="284.2" y1="159.0" x2="343.2" y2="162.0"/>
<line x1="288.4" y1="154.6" x2="345.7" y2="163.1"/>
<line x1="295.3" y1="161.5" x2="364.3" y2="162.3"/>
<line x1="300.8" y1="154.6" x2="365.2" y2="163.1"/>
<line x1="318.7" y1="159.1" x2="386.0" y2="163.1"/>
<line x1="291.5" y1="152.6" x2="250.2" y2="168.0"/>
<line x1="277.6" y1="159.3" x2="258.1" y2="168.0"/>
<line x1="280.8" y1="158.6" x2="269.6" y2="167.3"/>
<line x1="278.8" y1="157.1" x2="277.4" y2="168.0"/>
<line x1="303.8" y1="167.0" x2="285.4" y2="166.4"/>
<line x1="296.0" y1="158.3" x2="300.9" y2="168.0"/>
<line x1="298.4" y1="149.8" x2="305.8" y2="166.1"/>
<line x1="299.1" y1="156.2" x2="313.5" y2="168.0"/>
<line x1="292.2" y1="161.8" x2="333.0" y2="168.0"/>
<line x1="311.4" y1="161.2" x2="351.2" y2="167.8"/>
<line x1="309.0" y1="159.3" x2="352.5" y2="168.0"/>
<line x1="277.3" y1="153.1" x2="238.2" y2="172.3"/>
<line x1="291.8" y1="162.9" x2="251.8" y2="172.8"/>
<line x1="270.7" y1="154.9" x2="275.9" y2="172.8"/>
<line x1="294.7" y1="160.9" x2="286.6" y2="172.6"/>
<line x1="290.5" y1="155.1" x2="302.3" y2="172.8"/>
<line x1="289.8" y1="157.5" x2="326.3" y2="172.8"/>
<line x1="315.1" y1="158.7" x2="376.2" y2="171.1"/>
</g>
<g fill="#1414a8">
<circle cx="290.5" cy="158.7" r="0.85"/>
<circle cx="243.0" cy="104.5" r="0.85"/>
<circle cx="307.1" cy="145.4" r="0.85"/>
<circle cx="265.3" cy="104.5" r="0.85"/>
<circle cx="287.0" cy="143.9" r="0.85"/>
<circle cx="286.1" cy="148.0" r="0.85"/>
<circle cx="306.2" cy="104.5" r="0.85"/>
<circle cx="296.8" cy="143.7" r="0.85"/>
<circle cx="318.9" cy="104.5" r="0.85"/>
<circle cx="307.9" cy="147.2" r="0.85"/>
<circle cx="338.4" cy="104.5" r="0.85"/>
<circle cx="297.0" cy="141.2" r="0.85"/>
<circle cx="279.1" cy="154.9" r="0.85"/>
<circle cx="288.0" cy="146.7" r="0.85"/>
<circle cx="302.9" cy="147.2" r="0.85"/>
<circle cx="304.5" cy="109.8" r="0.85"/>
<circle cx="286.3" cy="143.8" r="0.85"/>
<circle cx="325.2" cy="109.8" r="0.85"/>
<circle cx="298.3" cy="146.8" r="0.85"/>
<circle cx="307.1" cy="148.7" r="0.85"/>
<circle cx="365.4" cy="109.8" r="0.85"/>
<circle cx="299.3" cy="147.9" r="0.85"/>
<circle cx="297.6" cy="141.4" r="0.85"/>
<circle cx="285.3" cy="156.4" r="0.85"/>
<circle cx="308.5" cy="114.5" r="0.85"/>
<circle cx="283.9" cy="153.5" r="0.85"/>
<circle cx="316.8" cy="114.5" r="0.85"/>
<circle cx="294.3" cy="144.4" r="0.85"/>
<circle cx="303.1" cy="161.0" r="0.85"/>
<circle cx="309.8" cy="152.8" r="0.85"/>
<circle cx="376.3" cy="114.5" r="0.85"/>
<circle cx="311.0" cy="149.8" r="0.85"/>
<circle cx="277.1" cy="119.4" r="0.85"/>
<circle cx="296.8" cy="141.9" r="0.85"/>
<circle cx="296.8" cy="119.4" r="0.85"/>
<circle cx="279.9" cy="158.2" r="0.85"/>
<circle cx="300.4" cy="152.9" r="0.85"/>
<circle cx="345.6" cy="119.4" r="0.85"/>
<circle cx="318.8" cy="141.9" r="0.85"/>
<circle cx="365.1" cy="119.4" r="0.85"/>
<circle cx="289.4" cy="151.1" r="0.85"/>
<circle cx="248.5" cy="124.3" r="0.85"/>
<circle cx="275.3" cy="149.8" r="0.85"/>
<circle cx="292.4" cy="142.7" r="0.85"/>
<circle cx="289.1" cy="124.3" r="0.85"/>
<circle cx="297.0" cy="147.6" r="0.85"/>
<circle cx="291.0" cy="154.9" r="0.85"/>
<circle cx="300.7" cy="148.4" r="0.85"/>
<circle cx="302.6" cy="149.5" r="0.85"/>
<circle cx="313.0" cy="150.6" r="0.85"/>
<circle cx="235.6" cy="129.0" r="0.85"/>
<circle cx="292.6" cy="150.3" r="0.85"/>
<circle cx="267.9" cy="149.6" r="0.85"/>
<circle cx="296.3" cy="129.0" r="0.85"/>
<circle cx="292.4" cy="151.6" r="0.85"/>
<circle cx="296.0" cy="151.1" r="0.85"/>
<circle cx="325.7" cy="129.0" r="0.85"/>
<circle cx="297.7" cy="160.8" r="0.85"/>
<circle cx="296.7" cy="143.0" r="0.85"/>
<circle cx="316.4" cy="144.8" r="0.85"/>
<circle cx="229.3" cy="134.3" r="0.85"/>
<circle cx="275.7" cy="157.9" r="0.85"/>
<circle cx="283.2" cy="152.3" r="0.85"/>
<circle cx="293.8" cy="153.6" r="0.85"/>
<circle cx="272.8" cy="134.3" r="0.85"/>
<circle cx="296.7" cy="157.7" r="0.85"/>
<circle cx="303.6" cy="147.6" r="0.85"/>
<circle cx="290.7" cy="134.3" r="0.85"/>
<circle cx="303.1" cy="153.6" r="0.85"/>
<circle cx="326.5" cy="134.3" r="0.85"/>
<circle cx="308.0" cy="148.8" r="0.85"/>
<circle cx="321.6" cy="151.3" r="0.85"/>
<circle cx="289.3" cy="154.8" r="0.85"/>
<circle cx="286.9" cy="148.1" r="0.85"/>
<circle cx="275.6" cy="138.6" r="0.85"/>
<circle cx="309.8" cy="154.9" r="0.85"/>
<circle cx="284.5" cy="158.2" r="0.85"/>
<circle cx="297.1" cy="138.6" r="0.85"/>
<circle cx="296.8" cy="156.6" r="0.85"/>
<circle cx="296.8" cy="152.7" r="0.85"/>
<circle cx="324.8" cy="138.6" r="0.85"/>
<circle cx="298.1" cy="155.2" r="0.85"/>
<circle cx="284.9" cy="153.4" r="0.85"/>
<circle cx="346.8" cy="138.6" r="0.85"/>
<circle cx="299.5" cy="152.1" r="0.85"/>
<circle cx="304.8" cy="151.3" r="0.85"/>
<circle cx="313.6" cy="145.1" r="0.85"/>
<circle cx="385.8" cy="138.6" r="0.85"/>
<circle cx="309.7" cy="157.4" r="0.85"/>
<circle cx="321.2" cy="153.9" r="0.85"/>
<circle cx="278.4" cy="149.4" r="0.85"/>
<circle cx="273.6" cy="157.6" r="0.85"/>
<circle cx="295.3" cy="162.2" r="0.85"/>
<circle cx="282.4" cy="159.1" r="0.85"/>
<circle cx="293.7" cy="157.6" r="0.85"/>
<circle cx="281.9" cy="158.4" r="0.85"/>
<circle cx="301.7" cy="143.5" r="0.85"/>
<circle cx="296.5" cy="154.6" r="0.85"/>
<circle cx="321.2" cy="143.5" r="0.85"/>
<circle cx="312.0" cy="156.8" r="0.85"/>
<circle cx="341.9" cy="143.5" r="0.85"/>
<circle cx="291.7" cy="154.0" r="0.85"/>
<circle cx="361.4" cy="143.5" r="0.85"/>
<circle cx="299.8" cy="157.3" r="0.85"/>
<circle cx="300.8" cy="153.2" r="0.85"/>
<circle cx="230.5" cy="148.4" r="0.85"/>
<circle cx="292.0" cy="158.2" r="0.85"/>
<circle cx="292.1" cy="154.1" r="0.85"/>
<circle cx="294.6" cy="156.2" r="0.85"/>
<circle cx="299.4" cy="156.3" r="0.85"/>
<circle cx="287.4" cy="154.3" r="0.85"/>
<circle cx="302.2" cy="151.1" r="0.85"/>
<circle cx="327.3" cy="151.4" r="0.85"/>
<circle cx="295.3" cy="158.4" r="0.85"/>
<circle cx="293.7" cy="153.3" r="0.85"/>
<circle cx="270.8" cy="150.7" r="0.85"/>
<circle cx="300.8" cy="155.9" r="0.85"/>
<circle cx="292.4" cy="151.9" r="0.85"/>
<circle cx="295.8" cy="156.9" r="0.85"/>
<circle cx="303.2" cy="159.7" r="0.85"/>
<circle cx="313.6" cy="152.5" r="0.85"/>
<circle cx="385.4" cy="153.3" r="0.85"/>
<circle cx="299.6" cy="160.7" r="0.85"/>
<circle cx="238.5" cy="158.2" r="0.85"/>
<circle cx="288.8" cy="150.8" r="0.85"/>
<circle cx="284.6" cy="154.5" r="0.85"/>
<circle cx="301.7" cy="158.9" r="0.85"/>
<circle cx="304.5" cy="159.3" r="0.85"/>
<circle cx="284.1" cy="154.7" r="0.85"/>
<circle cx="298.3" cy="158.2" r="0.85"/>
<circle cx="284.1" cy="148.1" r="0.85"/>
<circle cx="277.4" cy="154.1" r="0.85"/>
<circle cx="298.6" cy="165.6" r="0.85"/>
<circle cx="324.3" cy="158.2" r="0.85"/>
<circle cx="297.2" cy="163.1" r="0.85"/>
<circle cx="305.0" cy="153.1" r="0.85"/>
<circle cx="345.0" cy="158.2" r="0.85"/>
<circle cx="311.4" cy="153.1" r="0.85"/>
<circle cx="365.8" cy="158.2" r="0.85"/>
<circle cx="291.6" cy="157.2" r="0.85"/>
<circle cx="296.4" cy="172.2" r="0.85"/>
<circle cx="306.3" cy="156.6" r="0.85"/>
<circle cx="274.2" cy="156.9" r="0.85"/>
<circle cx="260.1" cy="163.1" r="0.85"/>
<circle cx="287.2" cy="158.1" r="0.85"/>
<circle cx="271.8" cy="159.6" r="0.85"/>
<circle cx="289.5" cy="149.3" r="0.85"/>
<circle cx="306.7" cy="163.1" r="0.85"/>
<circle cx="296.5" cy="154.3" r="0.85"/>
<circle cx="300.0" cy="160.9" r="0.85"/>
<circle cx="284.2" cy="159.0" r="0.85"/>
<circle cx="345.7" cy="163.1" r="0.85"/>
<circle cx="288.4" cy="154.6" r="0.85"/>
<circle cx="295.3" cy="161.5" r="0.85"/>
<circle cx="365.2" cy="163.1" r="0.85"/>
<circle cx="300.8" cy="154.6" r="0.85"/>
<circle cx="386.0" cy="163.1" r="0.85"/>
<circle cx="318.7" cy="159.1" r="0.85"/>
<circle cx="250.2" cy="168.0" r="0.85"/>
<circle cx="291.5" cy="152.6" r="0.85"/>
<circle cx="258.1" cy="168.0" r="0.85"/>
<circle cx="277.6" cy="159.3" r="0.85"/>
<circle cx="280.8" cy="158.6" r="0.85"/>
<circle cx="278.8" cy="157.1" r="0.85"/>
<circle cx="303.8" cy="167.0" r="0.85"/>
<circle cx="296.0" cy="158.3" r="0.85"/>
<circle cx="298.4" cy="149.8" r="0.85"/>
<circle cx="313.5" cy="168.0" r="0.85"/>
<circle cx="299.1" cy="156.2" r="0.85"/>
<circle cx="333.0" cy="168.0" r="0.85"/>
<circle cx="292.2" cy="161.8" r="0.85"/>
<circle cx="311.4" cy="161.2" r="0.85"/>
<circle cx="352.5" cy="168.0" r="0.85"/>
<circle cx="309.0" cy="159.3" r="0.85"/>
<circle cx="277.3" cy="153.1" r="0.85"/>
<circle cx="291.8" cy="162.9" r="0.85"/>
<circle cx="275.9" cy="172.8" r="0.85"/>
<circle cx="270.7" cy="154.9" r="0.85"/>
<circle cx="294.7" cy="160.9" r="0.85"/>
<circle cx="302.3" cy="172.8" r="0.85"/>
<circle cx="290.5" cy="155.1" r="0.85"/>
<circle cx="326.3" cy="172.8" r="0.85"/>
<circle cx="289.8" cy="157.5" r="0.85"/>
<circle cx="315.1" cy="158.7" r="0.85"/>
</g>
</svg>
<rect x="224.6" y="14" width="169.6" height="160.0" fill="none" stroke="#959595" stroke-width="1.15"/>
<path d="M331.6 32.0L333.6 34L331.6 36.0L329.6 34Z" fill="#ee1c24"/>
<text x="333.90000000000003" y="36.6" font-family='"Liberation Sans", sans-serif' font-weight="bold" font-size="5.8" fill="#ee1c24" stroke="#ee1c24" stroke-width="0.15">Beijing_2018</text>
<path d="M310.2 40.1L312.2 42.1L310.2 44.1L308.2 42.1Z" fill="#ee1c24"/>
<text x="312.5" y="44.7" font-family='"Liberation Sans", sans-serif' font-weight="bold" font-size="5.8" fill="#ee1c24" stroke="#ee1c24" stroke-width="0.15">Beijing_2017</text>
<path d="M292.2 59.7L294.2 61.7L292.2 63.7L290.2 61.7Z" fill="#ee1c24"/>
<text x="294.5" y="64.3" font-family='"Liberation Sans", sans-serif' font-weight="bold" font-size="5.8" fill="#ee1c24" stroke="#ee1c24" stroke-width="0.15">Anhui_2017</text>
<path d="M302.1 66.0L304.1 68L302.1 70.0L300.1 68Z" fill="#ee1c24"/>
<text x="304.40000000000003" y="70.6" font-family='"Liberation Sans", sans-serif' font-weight="bold" font-size="5.8" fill="#ee1c24" stroke="#ee1c24" stroke-width="0.15">Hainan_2018</text>
<path d="M268.4 71.1L270.4 73.1L268.4 75.1L266.4 73.1Z" fill="#ee1c24"/>
<text x="270.7" y="75.69999999999999" font-family='"Liberation Sans", sans-serif' font-weight="bold" font-size="5.8" fill="#ee1c24" stroke="#ee1c24" stroke-width="0.15">Hainan_2017</text>
<text x="227.8" y="21.2" font-size="7.6" font-family='"Liberation Sans", sans-serif' font-weight="bold" fill="#111" stroke="#111" stroke-width="0.25">I</text>
<text x="391.3" y="21.5" text-anchor="end" font-size="7.6" font-family='"Liberation Sans", sans-serif' font-weight="bold" fill="#111" stroke="#111" stroke-width="0.25">II</text>
<text x="226.1" y="171" font-size="8.2" font-family='"Liberation Sans", sans-serif' font-weight="bold" fill="#111" stroke="#111" stroke-width="0.25">III</text>
<text x="392.2" y="171" text-anchor="end" font-size="8.2" font-family='"Liberation Sans", sans-serif' font-weight="bold" fill="#111" stroke="#111" stroke-width="0.25">IV</text>
<path d="M231.9 25.0L234.6 27.7L231.9 30.4L229.20000000000002 27.7Z" fill="#e8141c"/>
<text x="236.9" y="30.2" font-family='"Liberation Sans", sans-serif' font-weight="bold" font-size="7" fill="#222" stroke="#222" stroke-width="0.2">Env</text>
<circle cx="231.9" cy="37.0" r="2.2" fill="#2b4ba6"/>
<text x="236.20000000000002" y="39.5" font-family='"Liberation Sans", sans-serif' font-weight="bold" font-size="7" fill="#222" stroke="#222" stroke-width="0.2">Gen</text>
<line x1="248.5" y1="174" x2="248.5" y2="176" stroke="#777" stroke-width="0.6"/>
<text x="248.5" y="181.8" text-anchor="middle" font-family='"Liberation Sans", sans-serif' font-size="6.4" fill="#404040" stroke="#404040" stroke-width="0.2">3.0</text>
<line x1="278" y1="174" x2="278" y2="176" stroke="#777" stroke-width="0.6"/>
<text x="278" y="181.8" text-anchor="middle" font-family='"Liberation Sans", sans-serif' font-size="6.4" fill="#404040" stroke="#404040" stroke-width="0.2">3.5</text>
<line x1="307.5" y1="174" x2="307.5" y2="176" stroke="#777" stroke-width="0.6"/>
<text x="307.5" y="181.8" text-anchor="middle" font-family='"Liberation Sans", sans-serif' font-size="6.4" fill="#404040" stroke="#404040" stroke-width="0.2">4.0</text>
<line x1="337" y1="174" x2="337" y2="176" stroke="#777" stroke-width="0.6"/>
<text x="337" y="181.8" text-anchor="middle" font-family='"Liberation Sans", sans-serif' font-size="6.4" fill="#404040" stroke="#404040" stroke-width="0.2">4.5</text>
<line x1="366" y1="174" x2="366" y2="176" stroke="#777" stroke-width="0.6"/>
<text x="366" y="181.8" text-anchor="middle" font-family='"Liberation Sans", sans-serif' font-size="6.4" fill="#404040" stroke="#404040" stroke-width="0.2">5.0</text>
<line x1="222.6" y1="166.75" x2="224.6" y2="166.75" stroke="#777" stroke-width="0.6"/>
<text x="222.1" y="169.95" text-anchor="end" font-family='"Liberation Sans", sans-serif' font-size="6.4" fill="#404040" stroke="#404040" stroke-width="0.2">0.0</text>
<line x1="222.6" y1="108.5" x2="224.6" y2="108.5" stroke="#777" stroke-width="0.6"/>
<text x="222.1" y="111.7" text-anchor="end" font-family='"Liberation Sans", sans-serif' font-size="6.4" fill="#404040" stroke="#404040" stroke-width="0.2">0.5</text>
<line x1="222.6" y1="51.5" x2="224.6" y2="51.5" stroke="#777" stroke-width="0.6"/>
<text x="222.1" y="54.7" text-anchor="end" font-family='"Liberation Sans", sans-serif' font-size="6.4" fill="#404040" stroke="#404040" stroke-width="0.2">1.0</text>
<text x="224" y="9.4" font-family='"Liberation Sans", sans-serif' font-weight="bold" font-size="8.2" fill="#111" stroke="#111" stroke-width="0.2">(b)</text>
<text x="314.6" y="191.5" text-anchor="middle" font-family='"Liberation Sans", sans-serif' font-weight="bold" font-size="8.55" fill="#111" stroke="#111" stroke-width="0.15">Stearic acid (%)</text>
<text transform="translate(210.1 94) scale(1.12 1) rotate(-90)" text-anchor="middle" font-family='"Liberation Sans", sans-serif' font-weight="bold" font-size="8.05" fill="#111" stroke="#111" stroke-width="0.15">Weighted average of the absolute scores</text>
<rect x="24.6" y="198" width="170.0" height="159.5" fill="#f0f0f0"/>
<line x1="106.4" y1="198" x2="106.4" y2="357.5" stroke="#666" stroke-width="1.0"/>
<line x1="24.6" y1="332.5" x2="194.6" y2="332.5" stroke="#8a8a80" stroke-width="1"/>
<svg x="24.6" y="198" width="170.0" height="159.5" viewBox="24.6 198 170.0 159.5" overflow="hidden">
<g font-family='"Liberation Sans", sans-serif' font-size="4.1" fill="#4a4aff" stroke="#4a4aff" stroke-width="0.14" transform="scale(0.91 1)">
<text x="120.9" y="287.9">WD005420</text>
<text x="95.2" y="291.1">ZD011997 - </text>
<text x="50.2" y="296.5">ZD018734 - </text>
<text x="73.0" y="296.5">ZD001661, </text>
<text x="94.4" y="296.5">ZD006554, </text>
<text x="115.9" y="296.5">ZD002043, </text>
<text x="137.3" y="296.5">WD010762  </text>
<text x="160.1" y="296.5">WD014572, </text>
<text x="182.9" y="296.5">ZD007107, </text>
<text x="64.8" y="301.1">WD008083, </text>
<text x="87.6" y="301.1">ZD014357  </text>
<text x="109.0" y="301.1">ZD008186  </text>
<text x="130.5" y="301.1">ZD001489 - </text>
<text x="153.3" y="301.1">ZD002566  </text>
<text x="174.7" y="301.1">ZD018076  </text>
<text x="42.8" y="305.0">ZD014572 - </text>
<text x="65.5" y="305.0">ZD005914 - </text>
<text x="88.3" y="305.0">ZD015790, </text>
<text x="109.8" y="305.0">ZD011907 - </text>
<text x="132.2" y="305.0">ZD023219  </text>
<text x="153.7" y="305.0">ZD019788, </text>
<text x="175.1" y="305.0">ZD011185 - </text>
<text x="34.8" y="309.8">ZD024804 - </text>
<text x="57.5" y="309.8">WD009122, </text>
<text x="80.3" y="309.8">WD023437 - </text>
<text x="104.5" y="309.8">ZD008138, </text>
<text x="125.9" y="309.8">ZD019255 - </text>
<text x="148.7" y="309.8">ZD022946  </text>
<text x="170.1" y="309.8">WD003397, </text>
<text x="192.9" y="309.8">ZD014733 - </text>
<text x="28.2" y="315.0">ZD013434  </text>
<text x="49.6" y="315.0">WD016592, </text>
<text x="72.4" y="315.0">WD017350, </text>
<text x="95.2" y="315.0">ZD003133, </text>
<text x="116.6" y="315.0">ZD005701, </text>
<text x="138.1" y="315.0">ZD006237, </text>
<text x="159.5" y="315.0">ZD011434  </text>
<text x="180.6" y="315.0">ZD005465 - </text>
<text x="203.4" y="315.0">ZD002402 - </text>
<text x="28.0" y="320.0">ZD024804, </text>
<text x="49.4" y="320.0">ZD013199, </text>
<text x="70.8" y="320.0">ZD005798, </text>
<text x="92.3" y="320.0">ZD024771  </text>
<text x="113.7" y="320.0">WD005034  </text>
<text x="136.5" y="320.0">ZD006991, </text>
<text x="157.9" y="320.0">ZD018265, </text>
<text x="179.3" y="320.0">ZD004019, </text>
<text x="200.7" y="320.0">ZD001541, </text>
<text x="29.5" y="325.0">ZD006253  </text>
<text x="50.9" y="325.0">WD010647, </text>
<text x="73.7" y="325.0">ZD012478, </text>
<text x="95.1" y="325.0">ZD002278 - </text>
<text x="117.9" y="325.0">ZD016371, </text>
<text x="139.3" y="325.0">ZD020150, </text>
<text x="160.8" y="325.0">WD010232 - </text>
<text x="184.9" y="325.0">WD006669, </text>
<text x="29.1" y="329.9">ZD001642, </text>
<text x="50.5" y="329.9">ZD014895, </text>
<text x="71.9" y="329.9">WD016240, </text>
<text x="94.7" y="329.9">ZD012207, </text>
<text x="116.1" y="329.9">ZD010971, </text>
<text x="137.6" y="329.9">ZD009538  </text>
<text x="159.0" y="329.9">ZD009216  </text>
<text x="180.4" y="329.9">ZD012684 - </text>
<text x="203.2" y="329.9">ZD015077, </text>
<text x="28.0" y="334.8">ZD008646 - </text>
<text x="50.8" y="334.8">ZD017674  </text>
<text x="72.2" y="334.8">ZD024704  </text>
<text x="93.7" y="334.8">ZD019184, </text>
<text x="115.1" y="334.8">ZD024005  </text>
<text x="136.5" y="334.8">ZD021936, </text>
<text x="157.9" y="334.8">WD012373, </text>
<text x="180.7" y="334.8">WD017293, </text>
<text x="203.5" y="334.8">WD022716, </text>
<text x="28.4" y="339.7">ZD019815, </text>
<text x="49.8" y="339.7">WD003947  </text>
<text x="72.6" y="339.7">ZD021944, </text>
<text x="94.0" y="339.7">WD022014 - </text>
<text x="118.1" y="339.7">WD010179, </text>
<text x="140.9" y="339.7">WD003772  </text>
<text x="163.7" y="339.7">WD008683, </text>
<text x="186.5" y="339.7">WD009344 - </text>
<text x="29.5" y="344.6">WD014965  </text>
<text x="52.2" y="344.6">WD003374, </text>
<text x="75.0" y="344.6">ZD005963  </text>
<text x="96.5" y="344.6">ZD022814  </text>
<text x="117.9" y="344.6">ZD022188 - </text>
<text x="140.7" y="344.6">ZD010790 - </text>
<text x="163.5" y="344.6">ZD024897  </text>
<text x="184.9" y="344.6">ZD006774, </text>
<text x="206.3" y="344.6">ZD010938 - </text>
<text x="27.6" y="349.5">WD017771  </text>
<text x="50.4" y="349.5">ZD022105, </text>
<text x="71.8" y="349.5">WD022863 - </text>
<text x="95.9" y="349.5">WD009509  </text>
<text x="118.7" y="349.5">ZD011178  </text>
<text x="139.5" y="349.5">ZD021000  </text>
<text x="161.0" y="349.5">ZD024812, </text>
<text x="182.4" y="349.5">ZD014355, </text>
<text x="203.8" y="349.5">WD019649  </text>
<text x="38.3" y="354.4">ZD008371, </text>
<text x="59.8" y="354.4">ZD002280, </text>
<text x="81.2" y="354.4">ZD017380 - </text>
<text x="104.0" y="354.4">ZD022417, </text>
<text x="125.4" y="354.4">ZD017902, </text>
<text x="146.8" y="354.4">ZD016295  </text>
<text x="168.2" y="354.4">ZD001882  </text>
<text x="189.7" y="354.4">WD011832  </text>
<text x="29.5" y="358.5">WD010520  </text>
<text x="52.3" y="358.5">ZD002857  </text>
<text x="73.7" y="358.5">WD010152 - </text>
<text x="97.9" y="358.5">ZD003158, </text>
<text x="119.3" y="358.5">WD024104, </text>
<text x="142.1" y="358.5">ZD018241 - </text>
<text x="164.9" y="358.5">ZD007528  </text>
<text x="186.3" y="358.5">ZD015223  </text>
</g>
<g stroke="#2020ff" stroke-width="0.5" stroke-opacity="1.0">
<line x1="85.1" y1="344.9" x2="108.5" y2="286.2"/>
<line x1="101.5" y1="336.4" x2="95.3" y2="289.4"/>
<line x1="80.2" y1="332.1" x2="52.8" y2="294.8"/>
<line x1="88.0" y1="337.2" x2="100.7" y2="294.8"/>
<line x1="100.8" y1="325.4" x2="120.8" y2="294.8"/>
<line x1="110.3" y1="328.0" x2="123.4" y2="294.8"/>
<line x1="131.5" y1="330.7" x2="144.2" y2="294.8"/>
<line x1="109.7" y1="336.4" x2="164.9" y2="294.8"/>
<line x1="102.3" y1="330.3" x2="73.4" y2="299.4"/>
<line x1="104.9" y1="335.2" x2="83.5" y2="299.4"/>
<line x1="93.3" y1="333.1" x2="108.1" y2="299.4"/>
<line x1="104.0" y1="333.8" x2="117.2" y2="299.4"/>
<line x1="114.9" y1="333.0" x2="138.0" y2="299.4"/>
<line x1="102.7" y1="337.3" x2="71.9" y2="303.3"/>
<line x1="92.7" y1="332.7" x2="83.6" y2="303.3"/>
<line x1="98.8" y1="330.7" x2="114.2" y2="303.3"/>
<line x1="93.4" y1="329.1" x2="118.8" y2="303.3"/>
<line x1="88.4" y1="339.8" x2="35.4" y2="308.1"/>
<line x1="92.5" y1="345.5" x2="55.9" y2="308.1"/>
<line x1="81.5" y1="342.1" x2="83.0" y2="308.1"/>
<line x1="103.3" y1="328.6" x2="101.0" y2="308.1"/>
<line x1="95.6" y1="338.0" x2="113.1" y2="308.1"/>
<line x1="117.4" y1="335.8" x2="133.8" y2="308.1"/>
<line x1="104.2" y1="342.7" x2="153.3" y2="308.1"/>
<line x1="116.7" y1="327.2" x2="174.1" y2="308.1"/>
<line x1="78.2" y1="346.7" x2="37.5" y2="313.3"/>
<line x1="67.8" y1="332.9" x2="53.4" y2="313.3"/>
<line x1="81.8" y1="337.8" x2="66.7" y2="313.3"/>
<line x1="98.4" y1="335.8" x2="93.4" y2="313.3"/>
<line x1="98.6" y1="333.1" x2="109.5" y2="313.3"/>
<line x1="97.2" y1="336.0" x2="124.1" y2="313.3"/>
<line x1="92.6" y1="337.6" x2="143.6" y2="313.3"/>
<line x1="100.3" y1="340.5" x2="183.6" y2="313.3"/>
<line x1="78.0" y1="337.0" x2="35.8" y2="317.4"/>
<line x1="86.5" y1="333.2" x2="58.2" y2="318.3"/>
<line x1="81.0" y1="335.9" x2="57.7" y2="316.9"/>
<line x1="102.2" y1="329.3" x2="78.8" y2="318.3"/>
<line x1="90.2" y1="332.8" x2="91.3" y2="318.3"/>
<line x1="87.2" y1="334.7" x2="104.4" y2="318.3"/>
<line x1="102.5" y1="337.5" x2="122.7" y2="318.3"/>
<line x1="100.3" y1="334.1" x2="142.2" y2="318.3"/>
<line x1="108.9" y1="345.7" x2="181.2" y2="318.3"/>
<line x1="129.3" y1="338.1" x2="188.8" y2="316.7"/>
<line x1="88.9" y1="340.6" x2="32.5" y2="323.3"/>
<line x1="67.0" y1="333.1" x2="41.9" y2="321.6"/>
<line x1="85.9" y1="333.1" x2="53.7" y2="323.3"/>
<line x1="103.2" y1="335.4" x2="59.0" y2="322.4"/>
<line x1="85.3" y1="344.3" x2="71.7" y2="323.3"/>
<line x1="88.0" y1="336.4" x2="101.9" y2="323.3"/>
<line x1="88.0" y1="332.6" x2="100.1" y2="321.7"/>
<line x1="90.8" y1="337.0" x2="109.0" y2="323.3"/>
<line x1="111.5" y1="337.7" x2="117.1" y2="321.9"/>
<line x1="108.3" y1="330.4" x2="125.3" y2="323.3"/>
<line x1="87.2" y1="336.4" x2="144.8" y2="323.3"/>
<line x1="89.9" y1="336.5" x2="164.3" y2="321.7"/>
<line x1="107.6" y1="336.3" x2="57.2" y2="328.2"/>
<line x1="102.7" y1="338.8" x2="64.0" y2="327.1"/>
<line x1="95.8" y1="340.5" x2="69.2" y2="328.2"/>
<line x1="106.5" y1="333.2" x2="97.7" y2="328.2"/>
<line x1="101.4" y1="337.9" x2="110.7" y2="328.2"/>
<line x1="90.4" y1="342.5" x2="123.5" y2="327.4"/>
<line x1="113.5" y1="340.4" x2="123.7" y2="328.2"/>
<line x1="89.9" y1="343.9" x2="134.5" y2="327.5"/>
<line x1="98.8" y1="333.3" x2="143.2" y2="328.2"/>
<line x1="97.5" y1="337.8" x2="150.6" y2="326.9"/>
<line x1="100.7" y1="342.4" x2="162.7" y2="328.2"/>
<line x1="77.3" y1="333.8" x2="25.7" y2="333.1"/>
<line x1="98.1" y1="338.6" x2="54.7" y2="333.1"/>
<line x1="81.5" y1="346.2" x2="68.3" y2="333.1"/>
<line x1="98.0" y1="346.6" x2="80.0" y2="332.8"/>
<line x1="81.5" y1="347.8" x2="87.4" y2="333.1"/>
<line x1="93.9" y1="339.4" x2="93.5" y2="331.9"/>
<line x1="102.9" y1="334.8" x2="117.6" y2="333.1"/>
<line x1="103.1" y1="337.9" x2="110.7" y2="331.6"/>
<line x1="106.8" y1="336.4" x2="142.2" y2="333.1"/>
<line x1="114.3" y1="337.7" x2="161.6" y2="332.8"/>
<line x1="115.7" y1="340.4" x2="163.0" y2="333.1"/>
<line x1="91.8" y1="342.2" x2="35.1" y2="337.0"/>
<line x1="71.9" y1="336.0" x2="56.5" y2="338.0"/>
<line x1="85.5" y1="338.0" x2="58.5" y2="336.4"/>
<line x1="89.0" y1="336.0" x2="78.2" y2="338.0"/>
<line x1="87.0" y1="331.4" x2="90.2" y2="338.0"/>
<line x1="100.7" y1="343.6" x2="116.5" y2="338.0"/>
<line x1="95.2" y1="335.9" x2="123.7" y2="337.2"/>
<line x1="87.6" y1="343.1" x2="126.7" y2="338.0"/>
<line x1="102.9" y1="336.8" x2="147.5" y2="338.0"/>
<line x1="99.4" y1="344.4" x2="63.4" y2="342.9"/>
<line x1="88.9" y1="337.2" x2="71.3" y2="342.9"/>
<line x1="97.8" y1="343.7" x2="98.3" y2="342.9"/>
<line x1="97.3" y1="340.8" x2="118.0" y2="342.9"/>
<line x1="98.7" y1="333.4" x2="118.5" y2="341.0"/>
<line x1="96.1" y1="337.0" x2="126.5" y2="342.9"/>
<line x1="96.0" y1="344.6" x2="135.0" y2="341.9"/>
<line x1="112.8" y1="344.6" x2="147.2" y2="342.9"/>
<line x1="104.2" y1="345.8" x2="166.7" y2="342.9"/>
<line x1="121.2" y1="343.0" x2="187.2" y2="342.3"/>
<line x1="134.5" y1="339.5" x2="186.2" y2="342.9"/>
<line x1="74.6" y1="338.1" x2="27.0" y2="347.8"/>
<line x1="88.8" y1="343.8" x2="47.4" y2="347.8"/>
<line x1="103.1" y1="340.4" x2="64.1" y2="347.2"/>
<line x1="103.6" y1="336.6" x2="67.3" y2="347.8"/>
<line x1="92.5" y1="342.8" x2="74.7" y2="347.7"/>
<line x1="71.0" y1="336.8" x2="88.5" y2="347.8"/>
<line x1="109.5" y1="331.2" x2="106.5" y2="347.8"/>
<line x1="109.7" y1="339.0" x2="119.3" y2="347.2"/>
<line x1="102.9" y1="342.4" x2="125.5" y2="347.8"/>
<line x1="106.6" y1="349.3" x2="145.0" y2="347.8"/>
<line x1="112.3" y1="336.1" x2="154.7" y2="346.7"/>
<line x1="109.3" y1="335.8" x2="164.5" y2="347.8"/>
<line x1="118.9" y1="345.5" x2="178.8" y2="346.2"/>
<line x1="105.1" y1="342.3" x2="184.0" y2="347.8"/>
<line x1="98.5" y1="340.4" x2="193.0" y2="346.7"/>
<line x1="107.3" y1="341.9" x2="58.1" y2="352.7"/>
<line x1="94.7" y1="347.8" x2="66.6" y2="351.7"/>
<line x1="104.6" y1="343.3" x2="85.2" y2="352.7"/>
<line x1="88.6" y1="339.3" x2="93.3" y2="351.8"/>
<line x1="82.8" y1="340.3" x2="104.4" y2="352.7"/>
<line x1="107.1" y1="334.7" x2="110.0" y2="352.5"/>
<line x1="94.2" y1="342.5" x2="112.6" y2="352.7"/>
<line x1="102.5" y1="343.6" x2="132.1" y2="352.7"/>
<line x1="99.4" y1="346.3" x2="145.8" y2="351.6"/>
<line x1="118.3" y1="346.9" x2="151.6" y2="352.7"/>
<line x1="114.1" y1="347.3" x2="163.6" y2="351.9"/>
<line x1="98.6" y1="338.7" x2="171.1" y2="352.7"/>
<line x1="111.0" y1="341.6" x2="179.9" y2="351.5"/>
<line x1="94.9" y1="338.7" x2="35.5" y2="356.8"/>
<line x1="74.3" y1="346.2" x2="59.5" y2="356.8"/>
<line x1="96.6" y1="344.8" x2="69.1" y2="356.8"/>
<line x1="87.5" y1="344.4" x2="94.3" y2="356.8"/>
<line x1="89.2" y1="334.0" x2="99.7" y2="356.0"/>
<line x1="91.5" y1="335.9" x2="107.1" y2="356.8"/>
<line x1="92.8" y1="339.6" x2="127.8" y2="356.8"/>
<line x1="97.4" y1="337.5" x2="148.5" y2="356.8"/>
</g>
<g fill="#1414a8">
<circle cx="85.1" cy="344.9" r="0.85"/>
<circle cx="101.5" cy="336.4" r="0.85"/>
<circle cx="80.2" cy="332.1" r="0.85"/>
<circle cx="100.7" cy="294.8" r="0.85"/>
<circle cx="88.0" cy="337.2" r="0.85"/>
<circle cx="100.8" cy="325.4" r="0.85"/>
<circle cx="123.4" cy="294.8" r="0.85"/>
<circle cx="110.3" cy="328.0" r="0.85"/>
<circle cx="144.2" cy="294.8" r="0.85"/>
<circle cx="131.5" cy="330.7" r="0.85"/>
<circle cx="164.9" cy="294.8" r="0.85"/>
<circle cx="109.7" cy="336.4" r="0.85"/>
<circle cx="73.4" cy="299.4" r="0.85"/>
<circle cx="102.3" cy="330.3" r="0.85"/>
<circle cx="104.9" cy="335.2" r="0.85"/>
<circle cx="93.3" cy="333.1" r="0.85"/>
<circle cx="104.0" cy="333.8" r="0.85"/>
<circle cx="138.0" cy="299.4" r="0.85"/>
<circle cx="114.9" cy="333.0" r="0.85"/>
<circle cx="71.9" cy="303.3" r="0.85"/>
<circle cx="102.7" cy="337.3" r="0.85"/>
<circle cx="83.6" cy="303.3" r="0.85"/>
<circle cx="92.7" cy="332.7" r="0.85"/>
<circle cx="98.8" cy="330.7" r="0.85"/>
<circle cx="93.4" cy="329.1" r="0.85"/>
<circle cx="88.4" cy="339.8" r="0.85"/>
<circle cx="92.5" cy="345.5" r="0.85"/>
<circle cx="83.0" cy="308.1" r="0.85"/>
<circle cx="81.5" cy="342.1" r="0.85"/>
<circle cx="103.3" cy="328.6" r="0.85"/>
<circle cx="95.6" cy="338.0" r="0.85"/>
<circle cx="133.8" cy="308.1" r="0.85"/>
<circle cx="117.4" cy="335.8" r="0.85"/>
<circle cx="153.3" cy="308.1" r="0.85"/>
<circle cx="104.2" cy="342.7" r="0.85"/>
<circle cx="116.7" cy="327.2" r="0.85"/>
<circle cx="78.2" cy="346.7" r="0.85"/>
<circle cx="67.8" cy="332.9" r="0.85"/>
<circle cx="66.7" cy="313.3" r="0.85"/>
<circle cx="81.8" cy="337.8" r="0.85"/>
<circle cx="93.4" cy="313.3" r="0.85"/>
<circle cx="98.4" cy="335.8" r="0.85"/>
<circle cx="98.6" cy="333.1" r="0.85"/>
<circle cx="97.2" cy="336.0" r="0.85"/>
<circle cx="92.6" cy="337.6" r="0.85"/>
<circle cx="100.3" cy="340.5" r="0.85"/>
<circle cx="78.0" cy="337.0" r="0.85"/>
<circle cx="86.5" cy="333.2" r="0.85"/>
<circle cx="81.0" cy="335.9" r="0.85"/>
<circle cx="78.8" cy="318.3" r="0.85"/>
<circle cx="102.2" cy="329.3" r="0.85"/>
<circle cx="91.3" cy="318.3" r="0.85"/>
<circle cx="90.2" cy="332.8" r="0.85"/>
<circle cx="87.2" cy="334.7" r="0.85"/>
<circle cx="102.5" cy="337.5" r="0.85"/>
<circle cx="142.2" cy="318.3" r="0.85"/>
<circle cx="100.3" cy="334.1" r="0.85"/>
<circle cx="108.9" cy="345.7" r="0.85"/>
<circle cx="129.3" cy="338.1" r="0.85"/>
<circle cx="32.5" cy="323.3" r="0.85"/>
<circle cx="88.9" cy="340.6" r="0.85"/>
<circle cx="67.0" cy="333.1" r="0.85"/>
<circle cx="53.7" cy="323.3" r="0.85"/>
<circle cx="85.9" cy="333.1" r="0.85"/>
<circle cx="103.2" cy="335.4" r="0.85"/>
<circle cx="71.7" cy="323.3" r="0.85"/>
<circle cx="85.3" cy="344.3" r="0.85"/>
<circle cx="88.0" cy="336.4" r="0.85"/>
<circle cx="88.0" cy="332.6" r="0.85"/>
<circle cx="90.8" cy="337.0" r="0.85"/>
<circle cx="111.5" cy="337.7" r="0.85"/>
<circle cx="125.3" cy="323.3" r="0.85"/>
<circle cx="108.3" cy="330.4" r="0.85"/>
<circle cx="87.2" cy="336.4" r="0.85"/>
<circle cx="89.9" cy="336.5" r="0.85"/>
<circle cx="57.2" cy="328.2" r="0.85"/>
<circle cx="107.6" cy="336.3" r="0.85"/>
<circle cx="102.7" cy="338.8" r="0.85"/>
<circle cx="95.8" cy="340.5" r="0.85"/>
<circle cx="106.5" cy="333.2" r="0.85"/>
<circle cx="101.4" cy="337.9" r="0.85"/>
<circle cx="90.4" cy="342.5" r="0.85"/>
<circle cx="123.7" cy="328.2" r="0.85"/>
<circle cx="113.5" cy="340.4" r="0.85"/>
<circle cx="89.9" cy="343.9" r="0.85"/>
<circle cx="98.8" cy="333.3" r="0.85"/>
<circle cx="97.5" cy="337.8" r="0.85"/>
<circle cx="162.7" cy="328.2" r="0.85"/>
<circle cx="100.7" cy="342.4" r="0.85"/>
<circle cx="25.7" cy="333.1" r="0.85"/>
<circle cx="77.3" cy="333.8" r="0.85"/>
<circle cx="54.7" cy="333.1" r="0.85"/>
<circle cx="98.1" cy="338.6" r="0.85"/>
<circle cx="68.3" cy="333.1" r="0.85"/>
<circle cx="81.5" cy="346.2" r="0.85"/>
<circle cx="98.0" cy="346.6" r="0.85"/>
<circle cx="81.5" cy="347.8" r="0.85"/>
<circle cx="93.9" cy="339.4" r="0.85"/>
<circle cx="102.9" cy="334.8" r="0.85"/>
<circle cx="103.1" cy="337.9" r="0.85"/>
<circle cx="106.8" cy="336.4" r="0.85"/>
<circle cx="114.3" cy="337.7" r="0.85"/>
<circle cx="163.0" cy="333.1" r="0.85"/>
<circle cx="115.7" cy="340.4" r="0.85"/>
<circle cx="91.8" cy="342.2" r="0.85"/>
<circle cx="56.5" cy="338.0" r="0.85"/>
<circle cx="71.9" cy="336.0" r="0.85"/>
<circle cx="85.5" cy="338.0" r="0.85"/>
<circle cx="78.2" cy="338.0" r="0.85"/>
<circle cx="89.0" cy="336.0" r="0.85"/>
<circle cx="90.2" cy="338.0" r="0.85"/>
<circle cx="87.0" cy="331.4" r="0.85"/>
<circle cx="100.7" cy="343.6" r="0.85"/>
<circle cx="95.2" cy="335.9" r="0.85"/>
<circle cx="126.7" cy="338.0" r="0.85"/>
<circle cx="87.6" cy="343.1" r="0.85"/>
<circle cx="147.5" cy="338.0" r="0.85"/>
<circle cx="102.9" cy="336.8" r="0.85"/>
<circle cx="63.4" cy="342.9" r="0.85"/>
<circle cx="99.4" cy="344.4" r="0.85"/>
<circle cx="71.3" cy="342.9" r="0.85"/>
<circle cx="88.9" cy="337.2" r="0.85"/>
<circle cx="97.8" cy="343.7" r="0.85"/>
<circle cx="97.3" cy="340.8" r="0.85"/>
<circle cx="98.7" cy="333.4" r="0.85"/>
<circle cx="96.1" cy="337.0" r="0.85"/>
<circle cx="96.0" cy="344.6" r="0.85"/>
<circle cx="147.2" cy="342.9" r="0.85"/>
<circle cx="112.8" cy="344.6" r="0.85"/>
<circle cx="166.7" cy="342.9" r="0.85"/>
<circle cx="104.2" cy="345.8" r="0.85"/>
<circle cx="121.2" cy="343.0" r="0.85"/>
<circle cx="134.5" cy="339.5" r="0.85"/>
<circle cx="74.6" cy="338.1" r="0.85"/>
<circle cx="47.4" cy="347.8" r="0.85"/>
<circle cx="88.8" cy="343.8" r="0.85"/>
<circle cx="103.1" cy="340.4" r="0.85"/>
<circle cx="67.3" cy="347.8" r="0.85"/>
<circle cx="103.6" cy="336.6" r="0.85"/>
<circle cx="92.5" cy="342.8" r="0.85"/>
<circle cx="88.5" cy="347.8" r="0.85"/>
<circle cx="71.0" cy="336.8" r="0.85"/>
<circle cx="106.5" cy="347.8" r="0.85"/>
<circle cx="109.5" cy="331.2" r="0.85"/>
<circle cx="109.7" cy="339.0" r="0.85"/>
<circle cx="102.9" cy="342.4" r="0.85"/>
<circle cx="106.6" cy="349.3" r="0.85"/>
<circle cx="112.3" cy="336.1" r="0.85"/>
<circle cx="164.5" cy="347.8" r="0.85"/>
<circle cx="109.3" cy="335.8" r="0.85"/>
<circle cx="118.9" cy="345.5" r="0.85"/>
<circle cx="105.1" cy="342.3" r="0.85"/>
<circle cx="98.5" cy="340.4" r="0.85"/>
<circle cx="58.1" cy="352.7" r="0.85"/>
<circle cx="107.3" cy="341.9" r="0.85"/>
<circle cx="94.7" cy="347.8" r="0.85"/>
<circle cx="104.6" cy="343.3" r="0.85"/>
<circle cx="88.6" cy="339.3" r="0.85"/>
<circle cx="104.4" cy="352.7" r="0.85"/>
<circle cx="82.8" cy="340.3" r="0.85"/>
<circle cx="107.1" cy="334.7" r="0.85"/>
<circle cx="94.2" cy="342.5" r="0.85"/>
<circle cx="102.5" cy="343.6" r="0.85"/>
<circle cx="99.4" cy="346.3" r="0.85"/>
<circle cx="118.3" cy="346.9" r="0.85"/>
<circle cx="114.1" cy="347.3" r="0.85"/>
<circle cx="171.1" cy="352.7" r="0.85"/>
<circle cx="98.6" cy="338.7" r="0.85"/>
<circle cx="111.0" cy="341.6" r="0.85"/>
<circle cx="94.9" cy="338.7" r="0.85"/>
<circle cx="74.3" cy="346.2" r="0.85"/>
<circle cx="96.6" cy="344.8" r="0.85"/>
<circle cx="87.5" cy="344.4" r="0.85"/>
<circle cx="89.2" cy="334.0" r="0.85"/>
<circle cx="107.1" cy="356.8" r="0.85"/>
<circle cx="91.5" cy="335.9" r="0.85"/>
<circle cx="127.8" cy="356.8" r="0.85"/>
<circle cx="92.8" cy="339.6" r="0.85"/>
<circle cx="97.4" cy="337.5" r="0.85"/>
</g>
</svg>
<rect x="24.6" y="198" width="170.0" height="159.5" fill="none" stroke="#959595" stroke-width="1.15"/>
<path d="M108.4 215.6L110.4 217.6L108.4 219.6L106.4 217.6Z" fill="#ee1c24"/>
<text x="110.7" y="220.2" font-family='"Liberation Sans", sans-serif' font-weight="bold" font-size="5.8" fill="#ee1c24" stroke="#ee1c24" stroke-width="0.15">Beijing_2017</text>
<path d="M100 221.4L102.0 223.4L100 225.4L98.0 223.4Z" fill="#ee1c24"/>
<text x="102.3" y="226.0" font-family='"Liberation Sans", sans-serif' font-weight="bold" font-size="5.8" fill="#ee1c24" stroke="#ee1c24" stroke-width="0.15">Hainan_2017</text>
<path d="M109.6 227.4L111.6 229.4L109.6 231.4L107.6 229.4Z" fill="#ee1c24"/>
<text x="111.89999999999999" y="232.0" font-family='"Liberation Sans", sans-serif' font-weight="bold" font-size="5.8" fill="#ee1c24" stroke="#ee1c24" stroke-width="0.15">Hainan_2018</text>
<path d="M98.4 266.0L100.4 268L98.4 270.0L96.4 268Z" fill="#ee1c24"/>
<text x="100.7" y="270.6" font-family='"Liberation Sans", sans-serif' font-weight="bold" font-size="5.8" fill="#ee1c24" stroke="#ee1c24" stroke-width="0.15">Anhui_2017</text>
<path d="M111.4 272.0L113.4 274L111.4 276.0L109.4 274Z" fill="#ee1c24"/>
<text x="113.7" y="276.6" font-family='"Liberation Sans", sans-serif' font-weight="bold" font-size="5.8" fill="#ee1c24" stroke="#ee1c24" stroke-width="0.15">Beijing_2018</text>
<text x="27.4" y="205.6" font-size="7.6" font-family='"Liberation Sans", sans-serif' font-weight="bold" fill="#111" stroke="#111" stroke-width="0.25">I</text>
<text x="191.5" y="207.5" text-anchor="end" font-size="7.6" font-family='"Liberation Sans", sans-serif' font-weight="bold" fill="#111" stroke="#111" stroke-width="0.25">II</text>
<text x="26.1" y="354.5" font-size="8.2" font-family='"Liberation Sans", sans-serif' font-weight="bold" fill="#111" stroke="#111" stroke-width="0.25">III</text>
<text x="192.6" y="354.5" text-anchor="end" font-size="8.2" font-family='"Liberation Sans", sans-serif' font-weight="bold" fill="#111" stroke="#111" stroke-width="0.25">IV</text>
<path d="M34 206.60000000000002L36.7 209.3L34 212.0L31.3 209.3Z" fill="#e8141c"/>
<text x="39" y="211.8" font-family='"Liberation Sans", sans-serif' font-weight="bold" font-size="7" fill="#222" stroke="#222" stroke-width="0.2">Env</text>
<circle cx="34" cy="218.10000000000002" r="2.2" fill="#2b4ba6"/>
<text x="38.3" y="220.60000000000002" font-family='"Liberation Sans", sans-serif' font-weight="bold" font-size="7" fill="#222" stroke="#222" stroke-width="0.2">Gen</text>
<line x1="55" y1="357.5" x2="55" y2="359.5" stroke="#777" stroke-width="0.6"/>
<text x="55" y="365.3" text-anchor="middle" font-family='"Liberation Sans", sans-serif' font-size="6.4" fill="#404040" stroke="#404040" stroke-width="0.2">15</text>
<line x1="95" y1="357.5" x2="95" y2="359.5" stroke="#777" stroke-width="0.6"/>
<text x="95" y="365.3" text-anchor="middle" font-family='"Liberation Sans", sans-serif' font-size="6.4" fill="#404040" stroke="#404040" stroke-width="0.2">20</text>
<line x1="135.3" y1="357.5" x2="135.3" y2="359.5" stroke="#777" stroke-width="0.6"/>
<text x="135.3" y="365.3" text-anchor="middle" font-family='"Liberation Sans", sans-serif' font-size="6.4" fill="#404040" stroke="#404040" stroke-width="0.2">25</text>
<line x1="175.5" y1="357.5" x2="175.5" y2="359.5" stroke="#777" stroke-width="0.6"/>
<text x="175.5" y="365.3" text-anchor="middle" font-family='"Liberation Sans", sans-serif' font-size="6.4" fill="#404040" stroke="#404040" stroke-width="0.2">30</text>
<line x1="22.6" y1="353.5" x2="24.6" y2="353.5" stroke="#777" stroke-width="0.6"/>
<text x="22.1" y="356.7" text-anchor="end" font-family='"Liberation Sans", sans-serif' font-size="6.4" fill="#404040" stroke="#404040" stroke-width="0.2">0</text>
<line x1="22.6" y1="305" x2="24.6" y2="305" stroke="#777" stroke-width="0.6"/>
<text x="22.1" y="308.2" text-anchor="end" font-family='"Liberation Sans", sans-serif' font-size="6.4" fill="#404040" stroke="#404040" stroke-width="0.2">1</text>
<line x1="22.6" y1="256.8" x2="24.6" y2="256.8" stroke="#777" stroke-width="0.6"/>
<text x="22.1" y="260.0" text-anchor="end" font-family='"Liberation Sans", sans-serif' font-size="6.4" fill="#404040" stroke="#404040" stroke-width="0.2">2</text>
<line x1="22.6" y1="208.5" x2="24.6" y2="208.5" stroke="#777" stroke-width="0.6"/>
<text x="22.1" y="211.7" text-anchor="end" font-family='"Liberation Sans", sans-serif' font-size="6.4" fill="#404040" stroke="#404040" stroke-width="0.2">3</text>
<text x="24.4" y="192.8" font-family='"Liberation Sans", sans-serif' font-weight="bold" font-size="8.2" fill="#111" stroke="#111" stroke-width="0.2">(c)</text>
<text x="104.8" y="372.5" text-anchor="middle" font-family='"Liberation Sans", sans-serif' font-weight="bold" font-size="8.55" fill="#111" stroke="#111" stroke-width="0.15">Oleic acid (%)</text>
<text transform="translate(16.0 277.8) scale(1.12 1) rotate(-90)" text-anchor="middle" font-family='"Liberation Sans", sans-serif' font-weight="bold" font-size="8.05" fill="#111" stroke="#111" stroke-width="0.15">Weighted average of the absolute scores</text>
<rect x="223.4" y="198" width="170.1" height="159.0" fill="#f0f0f0"/>
<line x1="311.5" y1="198" x2="311.5" y2="357" stroke="#666" stroke-width="1.0"/>
<line x1="223.4" y1="332.75" x2="393.5" y2="332.75" stroke="#8a8a80" stroke-width="1"/>
<svg x="223.4" y="198" width="170.1" height="159.0" viewBox="223.4 198 170.1 159.0" overflow="hidden">
<g font-family='"Liberation Sans", sans-serif' font-size="4.1" fill="#4a4aff" stroke="#4a4aff" stroke-width="0.14" transform="scale(0.91 1)">
<text x="318.7" y="283.3">ZD020192</text>
<text x="384.2" y="290.2">ZD022163</text>
<text x="273.6" y="288.5">ZD015010 - </text>
<text x="296.3" y="288.5">WD001170, </text>
<text x="318.8" y="288.5">ZD012552, </text>
<text x="340.3" y="288.5">ZD010329  </text>
<text x="361.7" y="288.5">ZD015970, </text>
<text x="262.6" y="293.4">ZD015912  </text>
<text x="284.0" y="293.4">ZD006048, </text>
<text x="305.4" y="293.4">ZD019435  </text>
<text x="326.8" y="293.4">WD019023, </text>
<text x="339.3" y="294.9">ZD012493, </text>
<text x="360.8" y="294.9">WD011378 - </text>
<text x="384.6" y="294.9">ZD004739  </text>
<text x="406.0" y="294.9">ZD002929, </text>
<text x="246.9" y="297.0">ZD004449  </text>
<text x="268.3" y="297.0">WD015551 - </text>
<text x="292.5" y="297.0">ZD024723, </text>
<text x="313.9" y="297.0">ZD007191, </text>
<text x="338.1" y="300.4">WD010924, </text>
<text x="360.8" y="300.4">ZD017025  </text>
<text x="382.3" y="300.4">WD016456, </text>
<text x="405.1" y="300.4">ZD003098  </text>
<text x="247.5" y="301.9">WD006607  </text>
<text x="270.3" y="301.9">ZD008324, </text>
<text x="291.7" y="301.9">ZD010918, </text>
<text x="313.1" y="301.9">WD020242  </text>
<text x="337.8" y="305.5">ZD017707, </text>
<text x="359.2" y="305.5">WD010690  </text>
<text x="382.0" y="305.5">ZD014722, </text>
<text x="403.4" y="305.5">WD020500, </text>
<text x="246.3" y="307.2">ZD014228  </text>
<text x="267.7" y="307.2">ZD008453, </text>
<text x="289.2" y="307.2">WD002666  </text>
<text x="311.9" y="307.2">ZD009861  </text>
<text x="338.2" y="310.5">ZD013095, </text>
<text x="359.7" y="310.5">ZD023098, </text>
<text x="381.1" y="310.5">ZD020056, </text>
<text x="402.5" y="310.5">ZD004039  </text>
<text x="423.9" y="310.5">WD001247  </text>
<text x="247.8" y="312.5">ZD004765 - </text>
<text x="270.6" y="312.5">WD016750, </text>
<text x="293.4" y="312.5">WD012805, </text>
<text x="316.2" y="312.5">ZD018562 - </text>
<text x="337.4" y="315.3">WD014167, </text>
<text x="360.2" y="315.3">WD012264, </text>
<text x="383.0" y="315.3">ZD017486, </text>
<text x="404.4" y="315.3">ZD023083  </text>
<text x="255.5" y="317.9">WD021192, </text>
<text x="278.0" y="317.9">ZD005347, </text>
<text x="299.4" y="317.9">WD020034 - </text>
<text x="323.6" y="317.9">ZD005729, </text>
<text x="337.6" y="320.5">ZD015136, </text>
<text x="359.0" y="320.5">ZD008360, </text>
<text x="380.5" y="320.5">ZD003652, </text>
<text x="401.9" y="320.5">ZD024968, </text>
<text x="423.3" y="320.5">WD002098, </text>
<text x="247.2" y="322.8">ZD006594, </text>
<text x="268.6" y="322.8">ZD016155, </text>
<text x="290.1" y="322.8">ZD005116  </text>
<text x="311.2" y="322.8">WD006966  </text>
<text x="334.0" y="322.8">ZD014445, </text>
<text x="355.4" y="322.8">ZD005362  </text>
<text x="376.8" y="322.8">WD018367 - </text>
<text x="401.0" y="322.8">ZD007489, </text>
<text x="422.4" y="322.8">ZD020867  </text>
<text x="247.6" y="327.7">ZD011235, </text>
<text x="268.7" y="327.7">ZD003974 - </text>
<text x="291.5" y="327.7">WD022573 - </text>
<text x="315.7" y="327.7">WD008942, </text>
<text x="338.4" y="327.7">WD009628, </text>
<text x="361.2" y="327.7">ZD010111, </text>
<text x="382.1" y="327.7">ZD012508  </text>
<text x="403.5" y="327.7">ZD021948 - </text>
<text x="246.5" y="332.6">ZD006696 - </text>
<text x="269.3" y="332.6">WD002223, </text>
<text x="292.1" y="332.6">ZD019569, </text>
<text x="313.5" y="332.6">WD002425, </text>
<text x="336.3" y="332.6">WD017773, </text>
<text x="359.1" y="332.6">WD020167, </text>
<text x="381.8" y="332.6">ZD022793  </text>
<text x="403.3" y="332.6">ZD013045, </text>
<text x="424.7" y="332.6">WD013411, </text>
<text x="247.2" y="337.5">ZD005914, </text>
<text x="268.6" y="337.5">ZD023301, </text>
<text x="290.0" y="337.5">ZD001122, </text>
<text x="311.1" y="337.5">ZD008430 - </text>
<text x="333.9" y="337.5">ZD014622 - </text>
<text x="356.7" y="337.5">WD022958 - </text>
<text x="380.9" y="337.5">ZD021108 - </text>
<text x="403.3" y="337.5">ZD003726  </text>
<text x="424.8" y="337.5">WD012430, </text>
<text x="248.0" y="342.4">WD022885, </text>
<text x="270.8" y="342.4">ZD003413, </text>
<text x="292.2" y="342.4">ZD001479 - </text>
<text x="315.0" y="342.4">ZD012906, </text>
<text x="336.4" y="342.4">WD022135  </text>
<text x="359.2" y="342.4">ZD016886 - </text>
<text x="382.0" y="342.4">WD020663 - </text>
<text x="406.2" y="342.4">ZD021776, </text>
<text x="247.7" y="347.3">ZD012511, </text>
<text x="268.8" y="347.3">ZD011365  </text>
<text x="289.9" y="347.3">WD023633, </text>
<text x="312.7" y="347.3">ZD013943, </text>
<text x="334.2" y="347.3">WD020595, </text>
<text x="356.9" y="347.3">ZD002498  </text>
<text x="378.4" y="347.3">ZD019891  </text>
<text x="399.8" y="347.3">ZD011631, </text>
<text x="420.9" y="347.3">ZD014650  </text>
<text x="256.8" y="352.2">ZD023861  </text>
<text x="278.2" y="352.2">WD014373  </text>
<text x="301.0" y="352.2">ZD023963 - </text>
<text x="323.8" y="352.2">ZD013368, </text>
<text x="345.2" y="352.2">ZD005273 - </text>
<text x="368.0" y="352.2">WD018523 - </text>
<text x="392.2" y="352.2">WD021456, </text>
<text x="247.5" y="357.1">ZD013557  </text>
<text x="268.9" y="357.1">ZD002945, </text>
<text x="290.3" y="357.1">ZD003292, </text>
<text x="311.8" y="357.1">ZD004118 - </text>
<text x="334.2" y="357.1">ZD010913, </text>
<text x="355.7" y="357.1">ZD011479 - </text>
<text x="378.1" y="357.1">ZD012719, </text>
<text x="399.6" y="357.1">WD016803, </text>
<text x="422.4" y="357.1">ZD008331, </text>
</g>
<g stroke="#2020ff" stroke-width="0.5" stroke-opacity="1.0">
<line x1="316.0" y1="321.6" x2="291.8" y2="281.6"/>
<line x1="312.3" y1="331.0" x2="348.1" y2="288.5"/>
<line x1="303.3" y1="335.8" x2="265.5" y2="286.8"/>
<line x1="285.9" y1="325.5" x2="271.7" y2="286.8"/>
<line x1="302.0" y1="326.8" x2="291.5" y2="286.8"/>
<line x1="315.7" y1="327.6" x2="325.1" y2="286.8"/>
<line x1="312.7" y1="327.1" x2="327.6" y2="286.8"/>
<line x1="302.5" y1="329.6" x2="239.2" y2="291.7"/>
<line x1="304.7" y1="336.4" x2="272.2" y2="291.7"/>
<line x1="303.1" y1="337.8" x2="287.6" y2="291.7"/>
<line x1="314.1" y1="336.1" x2="310.8" y2="291.7"/>
<line x1="296.6" y1="328.4" x2="312.2" y2="293.2"/>
<line x1="315.8" y1="326.9" x2="326.8" y2="293.2"/>
<line x1="338.8" y1="339.9" x2="348.5" y2="293.2"/>
<line x1="308.3" y1="341.4" x2="368.0" y2="293.2"/>
<line x1="289.7" y1="332.5" x2="246.4" y2="295.3"/>
<line x1="300.8" y1="334.2" x2="269.9" y2="295.3"/>
<line x1="314.7" y1="345.6" x2="298.9" y2="295.3"/>
<line x1="325.5" y1="336.2" x2="316.4" y2="298.7"/>
<line x1="327.2" y1="334.8" x2="346.4" y2="298.7"/>
<line x1="318.4" y1="330.1" x2="367.1" y2="298.7"/>
<line x1="320.5" y1="340.1" x2="241.1" y2="300.2"/>
<line x1="300.2" y1="335.1" x2="294.6" y2="300.2"/>
<line x1="301.0" y1="329.6" x2="321.3" y2="303.8"/>
<line x1="317.3" y1="334.2" x2="325.4" y2="303.8"/>
<line x1="309.7" y1="338.0" x2="346.1" y2="303.8"/>
<line x1="306.8" y1="327.5" x2="227.1" y2="305.5"/>
<line x1="296.9" y1="330.8" x2="272.6" y2="305.5"/>
<line x1="313.5" y1="338.3" x2="315.3" y2="308.8"/>
<line x1="319.0" y1="333.5" x2="325.8" y2="308.8"/>
<line x1="316.1" y1="333.0" x2="345.3" y2="308.8"/>
<line x1="316.6" y1="340.5" x2="364.8" y2="308.8"/>
<line x1="299.2" y1="337.1" x2="282.7" y2="310.8"/>
<line x1="314.0" y1="339.9" x2="300.2" y2="310.8"/>
<line x1="300.8" y1="337.9" x2="321.1" y2="313.6"/>
<line x1="319.1" y1="331.3" x2="326.3" y2="313.6"/>
<line x1="324.3" y1="334.4" x2="347.0" y2="313.6"/>
<line x1="298.3" y1="340.1" x2="236.8" y2="316.2"/>
<line x1="296.7" y1="334.0" x2="255.6" y2="316.2"/>
<line x1="304.3" y1="337.7" x2="286.0" y2="316.2"/>
<line x1="305.8" y1="334.2" x2="308.4" y2="316.2"/>
<line x1="318.9" y1="343.9" x2="318.5" y2="318.8"/>
<line x1="310.8" y1="332.0" x2="325.2" y2="318.8"/>
<line x1="313.6" y1="341.5" x2="344.5" y2="318.0"/>
<line x1="315.1" y1="342.4" x2="344.7" y2="318.8"/>
<line x1="313.2" y1="343.6" x2="362.8" y2="317.9"/>
<line x1="320.1" y1="337.1" x2="364.2" y2="318.8"/>
<line x1="298.7" y1="330.6" x2="259.3" y2="319.4"/>
<line x1="301.4" y1="337.5" x2="276.0" y2="321.1"/>
<line x1="317.7" y1="336.9" x2="284.8" y2="321.1"/>
<line x1="289.3" y1="337.2" x2="293.9" y2="320.5"/>
<line x1="299.2" y1="337.9" x2="306.2" y2="321.1"/>
<line x1="308.8" y1="340.8" x2="321.9" y2="321.1"/>
<line x1="321.3" y1="332.1" x2="363.4" y2="321.1"/>
<line x1="337.0" y1="337.3" x2="382.9" y2="321.1"/>
<line x1="337.9" y1="335.4" x2="398.7" y2="319.6"/>
<line x1="298.1" y1="340.6" x2="234.0" y2="326.0"/>
<line x1="309.0" y1="338.8" x2="259.6" y2="326.0"/>
<line x1="279.7" y1="329.4" x2="254.9" y2="325.5"/>
<line x1="296.6" y1="336.9" x2="275.2" y2="326.0"/>
<line x1="315.1" y1="336.9" x2="279.8" y2="325.1"/>
<line x1="312.0" y1="341.7" x2="294.6" y2="326.0"/>
<line x1="318.4" y1="336.4" x2="318.5" y2="326.0"/>
<line x1="288.5" y1="342.9" x2="327.2" y2="326.0"/>
<line x1="289.7" y1="349.0" x2="346.2" y2="326.0"/>
<line x1="315.7" y1="341.8" x2="366.0" y2="324.8"/>
<line x1="333.3" y1="339.5" x2="365.7" y2="326.0"/>
<line x1="307.5" y1="337.3" x2="252.7" y2="330.9"/>
<line x1="309.8" y1="336.2" x2="275.4" y2="330.9"/>
<line x1="307.5" y1="334.4" x2="291.3" y2="330.9"/>
<line x1="310.6" y1="339.5" x2="302.4" y2="329.8"/>
<line x1="307.9" y1="341.4" x2="311.5" y2="330.9"/>
<line x1="313.4" y1="344.7" x2="325.0" y2="328.9"/>
<line x1="315.8" y1="343.1" x2="325.2" y2="330.9"/>
<line x1="328.7" y1="333.5" x2="333.6" y2="328.9"/>
<line x1="299.6" y1="340.4" x2="346.0" y2="330.9"/>
<line x1="320.5" y1="334.1" x2="365.5" y2="330.9"/>
<line x1="321.3" y1="339.4" x2="395.8" y2="330.0"/>
<line x1="297.0" y1="342.9" x2="250.4" y2="335.7"/>
<line x1="315.9" y1="341.9" x2="270.2" y2="335.8"/>
<line x1="311.3" y1="335.0" x2="280.3" y2="334.3"/>
<line x1="301.4" y1="343.4" x2="283.4" y2="335.8"/>
<line x1="301.1" y1="339.3" x2="315.7" y2="335.8"/>
<line x1="308.5" y1="342.6" x2="323.1" y2="335.8"/>
<line x1="323.5" y1="344.0" x2="345.1" y2="335.8"/>
<line x1="325.3" y1="344.2" x2="365.5" y2="335.8"/>
<line x1="321.9" y1="339.4" x2="379.8" y2="335.3"/>
<line x1="322.8" y1="338.7" x2="385.0" y2="335.8"/>
<line x1="292.3" y1="335.9" x2="232.6" y2="340.7"/>
<line x1="309.4" y1="343.8" x2="249.6" y2="340.7"/>
<line x1="306.4" y1="346.6" x2="267.1" y2="340.7"/>
<line x1="311.9" y1="339.6" x2="285.2" y2="338.9"/>
<line x1="317.1" y1="342.1" x2="294.6" y2="340.7"/>
<line x1="300.7" y1="343.6" x2="315.9" y2="340.7"/>
<line x1="315.9" y1="335.3" x2="316.3" y2="339.1"/>
<line x1="309.0" y1="336.3" x2="325.4" y2="340.7"/>
<line x1="312.0" y1="333.6" x2="346.1" y2="340.7"/>
<line x1="315.5" y1="336.3" x2="368.1" y2="340.7"/>
<line x1="293.8" y1="336.3" x2="249.8" y2="345.6"/>
<line x1="301.0" y1="340.7" x2="293.8" y2="345.6"/>
<line x1="330.9" y1="344.1" x2="316.5" y2="345.6"/>
<line x1="316.2" y1="349.3" x2="323.3" y2="345.6"/>
<line x1="305.2" y1="338.3" x2="342.8" y2="345.6"/>
<line x1="324.9" y1="344.8" x2="362.3" y2="345.6"/>
<line x1="319.1" y1="330.2" x2="394.0" y2="344.2"/>
<line x1="310.1" y1="342.0" x2="245.4" y2="349.2"/>
<line x1="306.8" y1="343.9" x2="257.3" y2="350.5"/>
<line x1="320.0" y1="350.1" x2="270.8" y2="348.9"/>
<line x1="306.7" y1="345.6" x2="282.1" y2="350.5"/>
<line x1="303.5" y1="345.0" x2="303.5" y2="350.5"/>
<line x1="319.1" y1="343.4" x2="326.2" y2="350.5"/>
<line x1="298.3" y1="337.2" x2="333.4" y2="350.5"/>
<line x1="320.3" y1="343.6" x2="355.4" y2="350.5"/>
<line x1="298.0" y1="337.4" x2="277.4" y2="355.4"/>
<line x1="299.9" y1="338.8" x2="289.8" y2="355.4"/>
<line x1="309.5" y1="339.7" x2="312.5" y2="355.4"/>
<line x1="308.7" y1="347.6" x2="322.2" y2="355.4"/>
<line x1="300.9" y1="341.9" x2="342.6" y2="355.4"/>
<line x1="310.9" y1="342.2" x2="362.1" y2="355.4"/>
<line x1="325.9" y1="340.0" x2="383.5" y2="354.2"/>
<line x1="321.7" y1="337.2" x2="382.8" y2="355.4"/>
<line x1="322.4" y1="343.7" x2="400.4" y2="354.0"/>
</g>
<g fill="#1414a8">
<circle cx="316.0" cy="321.6" r="0.85"/>
<circle cx="348.1" cy="288.5" r="0.85"/>
<circle cx="312.3" cy="331.0" r="0.85"/>
<circle cx="303.3" cy="335.8" r="0.85"/>
<circle cx="285.9" cy="325.5" r="0.85"/>
<circle cx="291.5" cy="286.8" r="0.85"/>
<circle cx="302.0" cy="326.8" r="0.85"/>
<circle cx="315.7" cy="327.6" r="0.85"/>
<circle cx="327.6" cy="286.8" r="0.85"/>
<circle cx="312.7" cy="327.1" r="0.85"/>
<circle cx="239.2" cy="291.7" r="0.85"/>
<circle cx="302.5" cy="329.6" r="0.85"/>
<circle cx="272.2" cy="291.7" r="0.85"/>
<circle cx="304.7" cy="336.4" r="0.85"/>
<circle cx="287.6" cy="291.7" r="0.85"/>
<circle cx="303.1" cy="337.8" r="0.85"/>
<circle cx="310.8" cy="291.7" r="0.85"/>
<circle cx="314.1" cy="336.1" r="0.85"/>
<circle cx="312.2" cy="293.2" r="0.85"/>
<circle cx="296.6" cy="328.4" r="0.85"/>
<circle cx="315.8" cy="326.9" r="0.85"/>
<circle cx="338.8" cy="339.9" r="0.85"/>
<circle cx="368.0" cy="293.2" r="0.85"/>
<circle cx="308.3" cy="341.4" r="0.85"/>
<circle cx="289.7" cy="332.5" r="0.85"/>
<circle cx="300.8" cy="334.2" r="0.85"/>
<circle cx="298.9" cy="295.3" r="0.85"/>
<circle cx="314.7" cy="345.6" r="0.85"/>
<circle cx="325.5" cy="336.2" r="0.85"/>
<circle cx="327.2" cy="334.8" r="0.85"/>
<circle cx="318.4" cy="330.1" r="0.85"/>
<circle cx="241.1" cy="300.2" r="0.85"/>
<circle cx="320.5" cy="340.1" r="0.85"/>
<circle cx="300.2" cy="335.1" r="0.85"/>
<circle cx="321.3" cy="303.8" r="0.85"/>
<circle cx="301.0" cy="329.6" r="0.85"/>
<circle cx="325.4" cy="303.8" r="0.85"/>
<circle cx="317.3" cy="334.2" r="0.85"/>
<circle cx="309.7" cy="338.0" r="0.85"/>
<circle cx="306.8" cy="327.5" r="0.85"/>
<circle cx="272.6" cy="305.5" r="0.85"/>
<circle cx="296.9" cy="330.8" r="0.85"/>
<circle cx="313.5" cy="338.3" r="0.85"/>
<circle cx="319.0" cy="333.5" r="0.85"/>
<circle cx="316.1" cy="333.0" r="0.85"/>
<circle cx="364.8" cy="308.8" r="0.85"/>
<circle cx="316.6" cy="340.5" r="0.85"/>
<circle cx="282.7" cy="310.8" r="0.85"/>
<circle cx="299.2" cy="337.1" r="0.85"/>
<circle cx="300.2" cy="310.8" r="0.85"/>
<circle cx="314.0" cy="339.9" r="0.85"/>
<circle cx="321.1" cy="313.6" r="0.85"/>
<circle cx="300.8" cy="337.9" r="0.85"/>
<circle cx="326.3" cy="313.6" r="0.85"/>
<circle cx="319.1" cy="331.3" r="0.85"/>
<circle cx="324.3" cy="334.4" r="0.85"/>
<circle cx="236.8" cy="316.2" r="0.85"/>
<circle cx="298.3" cy="340.1" r="0.85"/>
<circle cx="255.6" cy="316.2" r="0.85"/>
<circle cx="296.7" cy="334.0" r="0.85"/>
<circle cx="286.0" cy="316.2" r="0.85"/>
<circle cx="304.3" cy="337.7" r="0.85"/>
<circle cx="308.4" cy="316.2" r="0.85"/>
<circle cx="305.8" cy="334.2" r="0.85"/>
<circle cx="318.5" cy="318.8" r="0.85"/>
<circle cx="318.9" cy="343.9" r="0.85"/>
<circle cx="325.2" cy="318.8" r="0.85"/>
<circle cx="310.8" cy="332.0" r="0.85"/>
<circle cx="313.6" cy="341.5" r="0.85"/>
<circle cx="344.7" cy="318.8" r="0.85"/>
<circle cx="315.1" cy="342.4" r="0.85"/>
<circle cx="313.2" cy="343.6" r="0.85"/>
<circle cx="320.1" cy="337.1" r="0.85"/>
<circle cx="298.7" cy="330.6" r="0.85"/>
<circle cx="301.4" cy="337.5" r="0.85"/>
<circle cx="317.7" cy="336.9" r="0.85"/>
<circle cx="289.3" cy="337.2" r="0.85"/>
<circle cx="306.2" cy="321.1" r="0.85"/>
<circle cx="299.2" cy="337.9" r="0.85"/>
<circle cx="321.9" cy="321.1" r="0.85"/>
<circle cx="308.8" cy="340.8" r="0.85"/>
<circle cx="363.4" cy="321.1" r="0.85"/>
<circle cx="321.3" cy="332.1" r="0.85"/>
<circle cx="337.0" cy="337.3" r="0.85"/>
<circle cx="337.9" cy="335.4" r="0.85"/>
<circle cx="234.0" cy="326.0" r="0.85"/>
<circle cx="298.1" cy="340.6" r="0.85"/>
<circle cx="309.0" cy="338.8" r="0.85"/>
<circle cx="279.7" cy="329.4" r="0.85"/>
<circle cx="296.6" cy="336.9" r="0.85"/>
<circle cx="315.1" cy="336.9" r="0.85"/>
<circle cx="312.0" cy="341.7" r="0.85"/>
<circle cx="318.4" cy="336.4" r="0.85"/>
<circle cx="288.5" cy="342.9" r="0.85"/>
<circle cx="346.2" cy="326.0" r="0.85"/>
<circle cx="289.7" cy="349.0" r="0.85"/>
<circle cx="315.7" cy="341.8" r="0.85"/>
<circle cx="333.3" cy="339.5" r="0.85"/>
<circle cx="252.7" cy="330.9" r="0.85"/>
<circle cx="307.5" cy="337.3" r="0.85"/>
<circle cx="275.4" cy="330.9" r="0.85"/>
<circle cx="309.8" cy="336.2" r="0.85"/>
<circle cx="291.3" cy="330.9" r="0.85"/>
<circle cx="307.5" cy="334.4" r="0.85"/>
<circle cx="310.6" cy="339.5" r="0.85"/>
<circle cx="307.9" cy="341.4" r="0.85"/>
<circle cx="313.4" cy="344.7" r="0.85"/>
<circle cx="315.8" cy="343.1" r="0.85"/>
<circle cx="328.7" cy="333.5" r="0.85"/>
<circle cx="346.0" cy="330.9" r="0.85"/>
<circle cx="299.6" cy="340.4" r="0.85"/>
<circle cx="365.5" cy="330.9" r="0.85"/>
<circle cx="320.5" cy="334.1" r="0.85"/>
<circle cx="321.3" cy="339.4" r="0.85"/>
<circle cx="297.0" cy="342.9" r="0.85"/>
<circle cx="270.2" cy="335.8" r="0.85"/>
<circle cx="315.9" cy="341.9" r="0.85"/>
<circle cx="311.3" cy="335.0" r="0.85"/>
<circle cx="301.4" cy="343.4" r="0.85"/>
<circle cx="315.7" cy="335.8" r="0.85"/>
<circle cx="301.1" cy="339.3" r="0.85"/>
<circle cx="323.1" cy="335.8" r="0.85"/>
<circle cx="308.5" cy="342.6" r="0.85"/>
<circle cx="323.5" cy="344.0" r="0.85"/>
<circle cx="365.5" cy="335.8" r="0.85"/>
<circle cx="325.3" cy="344.2" r="0.85"/>
<circle cx="321.9" cy="339.4" r="0.85"/>
<circle cx="385.0" cy="335.8" r="0.85"/>
<circle cx="322.8" cy="338.7" r="0.85"/>
<circle cx="232.6" cy="340.7" r="0.85"/>
<circle cx="292.3" cy="335.9" r="0.85"/>
<circle cx="309.4" cy="343.8" r="0.85"/>
<circle cx="267.1" cy="340.7" r="0.85"/>
<circle cx="306.4" cy="346.6" r="0.85"/>
<circle cx="311.9" cy="339.6" r="0.85"/>
<circle cx="294.6" cy="340.7" r="0.85"/>
<circle cx="317.1" cy="342.1" r="0.85"/>
<circle cx="315.9" cy="340.7" r="0.85"/>
<circle cx="300.7" cy="343.6" r="0.85"/>
<circle cx="315.9" cy="335.3" r="0.85"/>
<circle cx="325.4" cy="340.7" r="0.85"/>
<circle cx="309.0" cy="336.3" r="0.85"/>
<circle cx="346.1" cy="340.7" r="0.85"/>
<circle cx="312.0" cy="333.6" r="0.85"/>
<circle cx="315.5" cy="336.3" r="0.85"/>
<circle cx="249.8" cy="345.6" r="0.85"/>
<circle cx="293.8" cy="336.3" r="0.85"/>
<circle cx="301.0" cy="340.7" r="0.85"/>
<circle cx="316.5" cy="345.6" r="0.85"/>
<circle cx="330.9" cy="344.1" r="0.85"/>
<circle cx="323.3" cy="345.6" r="0.85"/>
<circle cx="316.2" cy="349.3" r="0.85"/>
<circle cx="305.2" cy="338.3" r="0.85"/>
<circle cx="362.3" cy="345.6" r="0.85"/>
<circle cx="324.9" cy="344.8" r="0.85"/>
<circle cx="319.1" cy="330.2" r="0.85"/>
<circle cx="310.1" cy="342.0" r="0.85"/>
<circle cx="306.8" cy="343.9" r="0.85"/>
<circle cx="320.0" cy="350.1" r="0.85"/>
<circle cx="282.1" cy="350.5" r="0.85"/>
<circle cx="306.7" cy="345.6" r="0.85"/>
<circle cx="303.5" cy="350.5" r="0.85"/>
<circle cx="303.5" cy="345.0" r="0.85"/>
<circle cx="326.2" cy="350.5" r="0.85"/>
<circle cx="319.1" cy="343.4" r="0.85"/>
<circle cx="298.3" cy="337.2" r="0.85"/>
<circle cx="320.3" cy="343.6" r="0.85"/>
<circle cx="277.4" cy="355.4" r="0.85"/>
<circle cx="298.0" cy="337.4" r="0.85"/>
<circle cx="299.9" cy="338.8" r="0.85"/>
<circle cx="309.5" cy="339.7" r="0.85"/>
<circle cx="322.2" cy="355.4" r="0.85"/>
<circle cx="308.7" cy="347.6" r="0.85"/>
<circle cx="342.6" cy="355.4" r="0.85"/>
<circle cx="300.9" cy="341.9" r="0.85"/>
<circle cx="362.1" cy="355.4" r="0.85"/>
<circle cx="310.9" cy="342.2" r="0.85"/>
<circle cx="325.9" cy="340.0" r="0.85"/>
<circle cx="382.8" cy="355.4" r="0.85"/>
<circle cx="321.7" cy="337.2" r="0.85"/>
<circle cx="322.4" cy="343.7" r="0.85"/>
</g>
</svg>
<rect x="223.4" y="198" width="170.1" height="159.0" fill="none" stroke="#959595" stroke-width="1.15"/>
<path d="M320.6 216.0L322.6 218L320.6 220.0L318.6 218Z" fill="#ee1c24"/>
<text x="322.90000000000003" y="220.6" font-family='"Liberation Sans", sans-serif' font-weight="bold" font-size="5.8" fill="#ee1c24" stroke="#ee1c24" stroke-width="0.15">Hainan_2017</text>
<path d="M305.4 234.6L307.4 236.6L305.4 238.6L303.4 236.6Z" fill="#ee1c24"/>
<text x="307.7" y="239.2" font-family='"Liberation Sans", sans-serif' font-weight="bold" font-size="5.8" fill="#ee1c24" stroke="#ee1c24" stroke-width="0.15">Beijing_2017</text>
<path d="M308.6 256.4L310.6 258.4L308.6 260.4L306.6 258.4Z" fill="#ee1c24"/>
<text x="310.90000000000003" y="261.0" font-family='"Liberation Sans", sans-serif' font-weight="bold" font-size="5.8" fill="#ee1c24" stroke="#ee1c24" stroke-width="0.15">Beijing_2018</text>
<path d="M313.4 270.6L315.4 272.6L313.4 274.6L311.4 272.6Z" fill="#ee1c24"/>
<text x="315.7" y="275.20000000000005" font-family='"Liberation Sans", sans-serif' font-weight="bold" font-size="5.8" fill="#ee1c24" stroke="#ee1c24" stroke-width="0.15">Anhui_2017</text>
<path d="M308.4 282.6L310.4 284.6L308.4 286.6L306.4 284.6Z" fill="#ee1c24"/>
<text x="310.7" y="287.20000000000005" font-family='"Liberation Sans", sans-serif' font-weight="bold" font-size="5.8" fill="#ee1c24" stroke="#ee1c24" stroke-width="0.15">Hainan_2018</text>
<text x="227.3" y="207.0" font-size="7.6" font-family='"Liberation Sans", sans-serif' font-weight="bold" fill="#111" stroke="#111" stroke-width="0.25">I</text>
<text x="390.0" y="207.5" text-anchor="end" font-size="7.6" font-family='"Liberation Sans", sans-serif' font-weight="bold" fill="#111" stroke="#111" stroke-width="0.25">II</text>
<text x="224.9" y="354" font-size="8.2" font-family='"Liberation Sans", sans-serif' font-weight="bold" fill="#111" stroke="#111" stroke-width="0.25">III</text>
<text x="391.5" y="354" text-anchor="end" font-size="8.2" font-family='"Liberation Sans", sans-serif' font-weight="bold" fill="#111" stroke="#111" stroke-width="0.25">IV</text>
<path d="M233.6 210.9L236.29999999999998 213.6L233.6 216.29999999999998L230.9 213.6Z" fill="#e8141c"/>
<text x="238.6" y="216.1" font-family='"Liberation Sans", sans-serif' font-weight="bold" font-size="7" fill="#222" stroke="#222" stroke-width="0.2">Env</text>
<circle cx="233.6" cy="222.29999999999998" r="2.2" fill="#2b4ba6"/>
<text x="237.9" y="224.79999999999998" font-family='"Liberation Sans", sans-serif' font-weight="bold" font-size="7" fill="#222" stroke="#222" stroke-width="0.2">Gen</text>
<line x1="281.5" y1="357" x2="281.5" y2="359" stroke="#777" stroke-width="0.6"/>
<text x="281.5" y="365.3" text-anchor="middle" font-family='"Liberation Sans", sans-serif' font-size="6.4" fill="#404040" stroke="#404040" stroke-width="0.2">50</text>
<line x1="346.5" y1="357" x2="346.5" y2="359" stroke="#777" stroke-width="0.6"/>
<text x="346.5" y="365.3" text-anchor="middle" font-family='"Liberation Sans", sans-serif' font-size="6.4" fill="#404040" stroke="#404040" stroke-width="0.2">60</text>
<line x1="221.4" y1="353.25" x2="223.4" y2="353.25" stroke="#777" stroke-width="0.6"/>
<text x="220.9" y="356.45" text-anchor="end" font-family='"Liberation Sans", sans-serif' font-size="6.4" fill="#404040" stroke="#404040" stroke-width="0.2">0</text>
<line x1="221.4" y1="302.5" x2="223.4" y2="302.5" stroke="#777" stroke-width="0.6"/>
<text x="220.9" y="305.7" text-anchor="end" font-family='"Liberation Sans", sans-serif' font-size="6.4" fill="#404040" stroke="#404040" stroke-width="0.2">1</text>
<line x1="221.4" y1="252.9" x2="223.4" y2="252.9" stroke="#777" stroke-width="0.6"/>
<text x="220.9" y="256.1" text-anchor="end" font-family='"Liberation Sans", sans-serif' font-size="6.4" fill="#404040" stroke="#404040" stroke-width="0.2">2</text>
<line x1="221.4" y1="201.25" x2="223.4" y2="201.25" stroke="#777" stroke-width="0.6"/>
<text x="220.9" y="204.45" text-anchor="end" font-family='"Liberation Sans", sans-serif' font-size="6.4" fill="#404040" stroke="#404040" stroke-width="0.2">3</text>
<text x="222" y="194" font-family='"Liberation Sans", sans-serif' font-weight="bold" font-size="8.2" fill="#111" stroke="#111" stroke-width="0.2">(d)</text>
<text x="313.4" y="373.5" text-anchor="middle" font-family='"Liberation Sans", sans-serif' font-weight="bold" font-size="8.55" fill="#111" stroke="#111" stroke-width="0.15">Linoleic acid (%)</text>
<text transform="translate(212.8 277.9) scale(1.12 1) rotate(-90)" text-anchor="middle" font-family='"Liberation Sans", sans-serif' font-weight="bold" font-size="8.05" fill="#111" stroke="#111" stroke-width="0.15">Weighted average of the absolute scores</text>
<rect x="25.3" y="378.6" width="170.2" height="152.4" fill="#f0f0f0"/>
<line x1="95" y1="378.6" x2="95" y2="531" stroke="#666" stroke-width="1.0"/>
<line x1="25.3" y1="506.25" x2="195.5" y2="506.25" stroke="#8a8a80" stroke-width="1"/>
<svg x="25.3" y="378.6" width="170.2" height="152.4" viewBox="25.3 378.6 170.2 152.4" overflow="hidden">
<g font-family='"Liberation Sans", sans-serif' font-size="4.1" fill="#4a4aff" stroke="#4a4aff" stroke-width="0.14" transform="scale(0.91 1)">
<text x="120.9" y="467.0">ZD010932</text>
<text x="145.5" y="468.5">WD018675</text>
<text x="146.7" y="472.7">WD019940</text>
<text x="154.9" y="477.5">ZD021023</text>
<text x="174.7" y="482.5">ZD004186</text>
<text x="164.3" y="486.8">ZD015726</text>
<text x="53.6" y="467.0">ZD017042, </text>
<text x="75.1" y="467.0">ZD008629, </text>
<text x="96.5" y="467.0">ZD024448 - </text>
<text x="30.7" y="469.1">ZD017842, </text>
<text x="54.1" y="471.9">ZD001835, </text>
<text x="75.6" y="471.9">ZD009895 - </text>
<text x="98.3" y="471.9">WD017611, </text>
<text x="28.7" y="474.5">WD021164, </text>
<text x="55.1" y="476.5">WD014493 - </text>
<text x="79.3" y="476.5">ZD007465, </text>
<text x="100.7" y="476.5">WD021153, </text>
<text x="30.0" y="479.8">ZD016516, </text>
<text x="51.4" y="479.8">ZD017656 - </text>
<text x="68.0" y="481.5">ZD015989  </text>
<text x="89.5" y="481.5">ZD007106 - </text>
<text x="112.3" y="481.5">ZD002348, </text>
<text x="30.0" y="485.1">ZD024932, </text>
<text x="51.5" y="485.1">ZD005695, </text>
<text x="72.9" y="485.1">ZD023913  </text>
<text x="94.3" y="485.1">WD010285, </text>
<text x="30.2" y="490.5">WD004834 - </text>
<text x="54.4" y="490.5">ZD006745, </text>
<text x="169.6" y="492.5">ZD021861, </text>
<text x="191.0" y="492.5">ZD024884, </text>
<text x="30.0" y="494.7">ZD014543, </text>
<text x="51.4" y="494.7">ZD009451, </text>
<text x="72.8" y="494.7">ZD023976 - </text>
<text x="95.6" y="494.7">ZD016758, </text>
<text x="186.0" y="497.5">ZD002165 - </text>
<text x="29.4" y="499.5">ZD015359  </text>
<text x="50.8" y="499.5">ZD003498, </text>
<text x="72.2" y="499.5">WD009444, </text>
<text x="95.0" y="499.5">WD019843, </text>
<text x="131.9" y="502.1">WD016132, </text>
<text x="154.7" y="502.1">ZD006875  </text>
<text x="176.1" y="502.1">ZD005566  </text>
<text x="197.5" y="502.1">ZD017229  </text>
<text x="30.3" y="504.5">ZD020702, </text>
<text x="51.7" y="504.5">ZD006522, </text>
<text x="73.1" y="504.5">ZD010002  </text>
<text x="94.5" y="504.5">ZD019090, </text>
<text x="116.0" y="504.5">ZD002811 - </text>
<text x="138.4" y="504.5">WD022236  </text>
<text x="161.2" y="504.5">ZD001787  </text>
<text x="182.7" y="504.5">ZD007703, </text>
<text x="204.1" y="504.5">ZD015783, </text>
<text x="28.7" y="509.4">WD022214, </text>
<text x="51.5" y="509.4">ZD019372, </text>
<text x="72.9" y="509.4">WD010976 - </text>
<text x="97.0" y="509.4">ZD019221 - </text>
<text x="119.8" y="509.4">ZD009613  </text>
<text x="141.3" y="509.4">ZD020184  </text>
<text x="162.7" y="509.4">ZD020896, </text>
<text x="184.1" y="509.4">ZD013274 - </text>
<text x="206.9" y="509.4">ZD021648  </text>
<text x="30.3" y="514.3">ZD001142  </text>
<text x="51.4" y="514.3">ZD021527 - </text>
<text x="74.2" y="514.3">ZD006797, </text>
<text x="95.6" y="514.3">ZD018395, </text>
<text x="117.1" y="514.3">ZD013269  </text>
<text x="138.5" y="514.3">WD008937, </text>
<text x="161.3" y="514.3">ZD011591  </text>
<text x="182.4" y="514.3">WD015134  </text>
<text x="205.2" y="514.3">ZD019293 - </text>
<text x="29.6" y="519.2">WD010768, </text>
<text x="52.4" y="519.2">WD022210  </text>
<text x="75.1" y="519.2">WD012087, </text>
<text x="97.9" y="519.2">WD021609, </text>
<text x="120.7" y="519.2">WD016244 - </text>
<text x="144.9" y="519.2">ZD003991  </text>
<text x="166.3" y="519.2">WD017614, </text>
<text x="189.1" y="519.2">ZD021782, </text>
<text x="29.8" y="524.1">ZD020565 - </text>
<text x="52.6" y="524.1">WD013861, </text>
<text x="75.4" y="524.1">ZD010468, </text>
<text x="96.8" y="524.1">ZD004811, </text>
<text x="117.9" y="524.1">WD004382, </text>
<text x="140.7" y="524.1">ZD008197 - </text>
<text x="163.5" y="524.1">ZD014081 - </text>
<text x="186.3" y="524.1">ZD005603  </text>
<text x="38.5" y="529.0">ZD003486, </text>
<text x="59.9" y="529.0">ZD021530  </text>
<text x="81.3" y="529.0">WD020272, </text>
<text x="104.1" y="529.0">ZD013659, </text>
<text x="125.5" y="529.0">ZD001477  </text>
<text x="147.0" y="529.0">WD011352 - </text>
<text x="170.8" y="529.0">ZD017656 - </text>
<text x="193.6" y="529.0">ZD020114  </text>
<text x="29.4" y="533.0">WD016775, </text>
<text x="52.2" y="533.0">ZD006664, </text>
<text x="73.6" y="533.0">ZD021575, </text>
<text x="95.1" y="533.0">WD022103, </text>
<text x="117.9" y="533.0">ZD023820, </text>
<text x="139.3" y="533.0">WD021875, </text>
<text x="162.1" y="533.0">ZD021035 - </text>
<text x="184.9" y="533.0">ZD006840  </text>
<text x="206.3" y="533.0">ZD019807 - </text>
</g>
<g stroke="#2020ff" stroke-width="0.5" stroke-opacity="1.0">
<line x1="90.8" y1="511.4" x2="108.5" y2="465.3"/>
<line x1="86.6" y1="493.0" x2="130.9" y2="466.8"/>
<line x1="89.8" y1="501.7" x2="132.0" y2="471.0"/>
<line x1="89.9" y1="512.2" x2="139.5" y2="475.8"/>
<line x1="91.5" y1="513.6" x2="157.5" y2="480.8"/>
<line x1="92.4" y1="508.4" x2="148.0" y2="485.1"/>
<line x1="68.8" y1="501.1" x2="48.9" y2="465.3"/>
<line x1="60.8" y1="511.8" x2="83.9" y2="465.3"/>
<line x1="89.3" y1="500.3" x2="89.9" y2="465.3"/>
<line x1="75.5" y1="505.5" x2="35.4" y2="467.4"/>
<line x1="84.9" y1="503.0" x2="56.6" y2="470.2"/>
<line x1="74.3" y1="512.6" x2="95.5" y2="470.2"/>
<line x1="70.0" y1="511.9" x2="32.1" y2="472.8"/>
<line x1="66.7" y1="517.8" x2="62.9" y2="474.8"/>
<line x1="84.0" y1="504.5" x2="79.1" y2="474.8"/>
<line x1="84.3" y1="516.8" x2="106.8" y2="474.8"/>
<line x1="66.1" y1="504.0" x2="67.8" y2="479.8"/>
<line x1="92.0" y1="503.4" x2="85.1" y2="479.8"/>
<line x1="86.2" y1="509.7" x2="100.7" y2="479.8"/>
<line x1="73.5" y1="510.3" x2="29.7" y2="483.4"/>
<line x1="74.8" y1="502.2" x2="54.9" y2="483.4"/>
<line x1="78.9" y1="511.6" x2="75.9" y2="483.4"/>
<line x1="91.0" y1="514.1" x2="100.2" y2="483.4"/>
<line x1="60.1" y1="506.3" x2="40.6" y2="488.8"/>
<line x1="60.7" y1="506.6" x2="57.4" y2="488.8"/>
<line x1="89.9" y1="512.3" x2="152.8" y2="490.8"/>
<line x1="87.3" y1="510.7" x2="172.3" y2="490.8"/>
<line x1="81.5" y1="519.0" x2="28.2" y2="493.0"/>
<line x1="49.2" y1="502.0" x2="34.0" y2="492.5"/>
<line x1="74.0" y1="501.4" x2="49.7" y2="493.0"/>
<line x1="110.0" y1="513.3" x2="69.8" y2="493.0"/>
<line x1="89.2" y1="513.1" x2="96.0" y2="493.0"/>
<line x1="64.7" y1="509.4" x2="27.9" y2="497.8"/>
<line x1="80.6" y1="507.4" x2="52.5" y2="497.8"/>
<line x1="63.6" y1="511.4" x2="52.5" y2="496.4"/>
<line x1="91.9" y1="505.5" x2="69.3" y2="497.8"/>
<line x1="85.0" y1="512.5" x2="88.3" y2="497.8"/>
<line x1="88.7" y1="507.2" x2="105.1" y2="497.1"/>
<line x1="89.3" y1="511.8" x2="118.5" y2="500.4"/>
<line x1="108.4" y1="517.0" x2="139.1" y2="498.5"/>
<line x1="75.6" y1="520.1" x2="139.2" y2="500.4"/>
<line x1="81.7" y1="510.2" x2="158.7" y2="500.4"/>
<line x1="109.5" y1="513.2" x2="178.2" y2="500.4"/>
<line x1="69.7" y1="512.8" x2="39.3" y2="502.8"/>
<line x1="82.8" y1="513.9" x2="42.0" y2="501.7"/>
<line x1="95.1" y1="512.1" x2="57.3" y2="502.8"/>
<line x1="81.5" y1="508.0" x2="71.4" y2="502.8"/>
<line x1="85.2" y1="520.3" x2="95.6" y2="502.8"/>
<line x1="85.8" y1="507.4" x2="104.0" y2="502.8"/>
<line x1="101.3" y1="505.8" x2="124.5" y2="502.8"/>
<line x1="100.7" y1="508.2" x2="145.2" y2="502.8"/>
<line x1="94.4" y1="510.7" x2="205.1" y2="501.4"/>
<line x1="86.9" y1="510.6" x2="53.8" y2="507.7"/>
<line x1="85.0" y1="513.2" x2="55.8" y2="507.3"/>
<line x1="76.7" y1="515.4" x2="67.9" y2="507.7"/>
<line x1="76.1" y1="514.0" x2="90.3" y2="507.7"/>
<line x1="98.2" y1="514.1" x2="101.8" y2="505.9"/>
<line x1="84.5" y1="511.1" x2="107.6" y2="507.7"/>
<line x1="107.2" y1="514.4" x2="128.1" y2="507.0"/>
<line x1="101.8" y1="519.7" x2="127.0" y2="507.7"/>
<line x1="93.4" y1="511.1" x2="135.4" y2="505.9"/>
<line x1="88.8" y1="510.8" x2="146.5" y2="507.7"/>
<line x1="57.6" y1="513.6" x2="38.5" y2="512.6"/>
<line x1="77.7" y1="508.3" x2="50.9" y2="512.6"/>
<line x1="59.8" y1="519.9" x2="63.9" y2="511.8"/>
<line x1="113.0" y1="512.7" x2="76.2" y2="512.6"/>
<line x1="73.2" y1="509.5" x2="91.6" y2="512.6"/>
<line x1="77.0" y1="519.3" x2="98.2" y2="511.7"/>
<line x1="85.2" y1="516.1" x2="120.6" y2="512.4"/>
<line x1="77.7" y1="513.4" x2="124.5" y2="512.6"/>
<line x1="96.2" y1="511.5" x2="164.5" y2="512.6"/>
<line x1="76.2" y1="512.1" x2="182.4" y2="510.6"/>
<line x1="65.9" y1="516.9" x2="35.8" y2="517.5"/>
<line x1="81.3" y1="512.4" x2="55.8" y2="517.5"/>
<line x1="91.3" y1="516.4" x2="59.8" y2="516.9"/>
<line x1="99.0" y1="516.2" x2="76.0" y2="517.5"/>
<line x1="70.8" y1="508.9" x2="74.7" y2="515.9"/>
<line x1="82.9" y1="509.6" x2="93.2" y2="517.5"/>
<line x1="104.1" y1="515.8" x2="125.1" y2="516.1"/>
<line x1="109.2" y1="516.3" x2="130.3" y2="517.5"/>
<line x1="89.7" y1="510.8" x2="140.7" y2="516.7"/>
<line x1="111.7" y1="511.0" x2="149.8" y2="517.5"/>
<line x1="89.2" y1="515.3" x2="170.6" y2="517.5"/>
<line x1="105.3" y1="513.4" x2="186.5" y2="515.7"/>
<line x1="61.4" y1="512.8" x2="41.5" y2="522.4"/>
<line x1="89.1" y1="507.3" x2="61.1" y2="522.4"/>
<line x1="81.1" y1="510.9" x2="68.3" y2="522.2"/>
<line x1="76.1" y1="500.8" x2="74.1" y2="522.4"/>
<line x1="95.7" y1="515.9" x2="105.8" y2="522.4"/>
<line x1="93.5" y1="514.6" x2="122.9" y2="521.9"/>
<line x1="87.6" y1="513.3" x2="126.6" y2="522.4"/>
<line x1="100.2" y1="511.9" x2="140.1" y2="521.6"/>
<line x1="96.1" y1="515.1" x2="161.7" y2="520.4"/>
<line x1="96.4" y1="518.7" x2="168.0" y2="522.4"/>
<line x1="66.7" y1="517.3" x2="41.4" y2="527.3"/>
<line x1="68.5" y1="526.6" x2="61.8" y2="527.3"/>
<line x1="84.9" y1="523.9" x2="66.4" y2="525.2"/>
<line x1="86.6" y1="514.0" x2="81.6" y2="527.3"/>
<line x1="93.9" y1="511.2" x2="93.3" y2="527.3"/>
<line x1="97.7" y1="508.8" x2="108.0" y2="526.4"/>
<line x1="92.4" y1="514.3" x2="112.7" y2="527.3"/>
<line x1="77.8" y1="517.0" x2="122.4" y2="525.8"/>
<line x1="88.4" y1="510.8" x2="132.2" y2="527.3"/>
<line x1="113.0" y1="513.1" x2="151.1" y2="526.5"/>
<line x1="86.4" y1="514.9" x2="153.9" y2="527.3"/>
<line x1="98.9" y1="511.6" x2="174.7" y2="527.3"/>
<line x1="79.8" y1="517.3" x2="183.8" y2="526.4"/>
<line x1="61.7" y1="516.0" x2="26.8" y2="531.3"/>
<line x1="83.1" y1="515.9" x2="49.6" y2="531.3"/>
<line x1="66.1" y1="504.6" x2="77.0" y2="531.3"/>
<line x1="68.4" y1="523.3" x2="96.7" y2="531.3"/>
<line x1="94.9" y1="528.2" x2="97.5" y2="529.8"/>
<line x1="80.3" y1="516.5" x2="105.8" y2="531.3"/>
<line x1="72.1" y1="515.4" x2="125.2" y2="531.3"/>
<line x1="79.8" y1="517.6" x2="146.0" y2="531.3"/>
<line x1="76.9" y1="514.5" x2="164.9" y2="529.4"/>
<line x1="67.6" y1="512.1" x2="166.7" y2="531.3"/>
<line x1="100.2" y1="516.3" x2="186.2" y2="531.3"/>
</g>
<g fill="#1414a8">
<circle cx="108.5" cy="465.3" r="0.85"/>
<circle cx="90.8" cy="511.4" r="0.85"/>
<circle cx="86.6" cy="493.0" r="0.85"/>
<circle cx="132.0" cy="471.0" r="0.85"/>
<circle cx="89.8" cy="501.7" r="0.85"/>
<circle cx="89.9" cy="512.2" r="0.85"/>
<circle cx="91.5" cy="513.6" r="0.85"/>
<circle cx="92.4" cy="508.4" r="0.85"/>
<circle cx="48.9" cy="465.3" r="0.85"/>
<circle cx="68.8" cy="501.1" r="0.85"/>
<circle cx="83.9" cy="465.3" r="0.85"/>
<circle cx="60.8" cy="511.8" r="0.85"/>
<circle cx="89.9" cy="465.3" r="0.85"/>
<circle cx="89.3" cy="500.3" r="0.85"/>
<circle cx="35.4" cy="467.4" r="0.85"/>
<circle cx="75.5" cy="505.5" r="0.85"/>
<circle cx="84.9" cy="503.0" r="0.85"/>
<circle cx="74.3" cy="512.6" r="0.85"/>
<circle cx="70.0" cy="511.9" r="0.85"/>
<circle cx="62.9" cy="474.8" r="0.85"/>
<circle cx="66.7" cy="517.8" r="0.85"/>
<circle cx="79.1" cy="474.8" r="0.85"/>
<circle cx="84.0" cy="504.5" r="0.85"/>
<circle cx="84.3" cy="516.8" r="0.85"/>
<circle cx="66.1" cy="504.0" r="0.85"/>
<circle cx="85.1" cy="479.8" r="0.85"/>
<circle cx="92.0" cy="503.4" r="0.85"/>
<circle cx="86.2" cy="509.7" r="0.85"/>
<circle cx="29.7" cy="483.4" r="0.85"/>
<circle cx="73.5" cy="510.3" r="0.85"/>
<circle cx="54.9" cy="483.4" r="0.85"/>
<circle cx="74.8" cy="502.2" r="0.85"/>
<circle cx="75.9" cy="483.4" r="0.85"/>
<circle cx="78.9" cy="511.6" r="0.85"/>
<circle cx="91.0" cy="514.1" r="0.85"/>
<circle cx="40.6" cy="488.8" r="0.85"/>
<circle cx="60.1" cy="506.3" r="0.85"/>
<circle cx="60.7" cy="506.6" r="0.85"/>
<circle cx="152.8" cy="490.8" r="0.85"/>
<circle cx="89.9" cy="512.3" r="0.85"/>
<circle cx="87.3" cy="510.7" r="0.85"/>
<circle cx="81.5" cy="519.0" r="0.85"/>
<circle cx="49.2" cy="502.0" r="0.85"/>
<circle cx="49.7" cy="493.0" r="0.85"/>
<circle cx="74.0" cy="501.4" r="0.85"/>
<circle cx="110.0" cy="513.3" r="0.85"/>
<circle cx="96.0" cy="493.0" r="0.85"/>
<circle cx="89.2" cy="513.1" r="0.85"/>
<circle cx="64.7" cy="509.4" r="0.85"/>
<circle cx="80.6" cy="507.4" r="0.85"/>
<circle cx="63.6" cy="511.4" r="0.85"/>
<circle cx="69.3" cy="497.8" r="0.85"/>
<circle cx="91.9" cy="505.5" r="0.85"/>
<circle cx="88.3" cy="497.8" r="0.85"/>
<circle cx="85.0" cy="512.5" r="0.85"/>
<circle cx="88.7" cy="507.2" r="0.85"/>
<circle cx="118.5" cy="500.4" r="0.85"/>
<circle cx="89.3" cy="511.8" r="0.85"/>
<circle cx="108.4" cy="517.0" r="0.85"/>
<circle cx="75.6" cy="520.1" r="0.85"/>
<circle cx="158.7" cy="500.4" r="0.85"/>
<circle cx="81.7" cy="510.2" r="0.85"/>
<circle cx="178.2" cy="500.4" r="0.85"/>
<circle cx="109.5" cy="513.2" r="0.85"/>
<circle cx="39.3" cy="502.8" r="0.85"/>
<circle cx="69.7" cy="512.8" r="0.85"/>
<circle cx="82.8" cy="513.9" r="0.85"/>
<circle cx="95.1" cy="512.1" r="0.85"/>
<circle cx="81.5" cy="508.0" r="0.85"/>
<circle cx="85.2" cy="520.3" r="0.85"/>
<circle cx="104.0" cy="502.8" r="0.85"/>
<circle cx="85.8" cy="507.4" r="0.85"/>
<circle cx="101.3" cy="505.8" r="0.85"/>
<circle cx="145.2" cy="502.8" r="0.85"/>
<circle cx="100.7" cy="508.2" r="0.85"/>
<circle cx="94.4" cy="510.7" r="0.85"/>
<circle cx="53.8" cy="507.7" r="0.85"/>
<circle cx="86.9" cy="510.6" r="0.85"/>
<circle cx="85.0" cy="513.2" r="0.85"/>
<circle cx="76.7" cy="515.4" r="0.85"/>
<circle cx="90.3" cy="507.7" r="0.85"/>
<circle cx="76.1" cy="514.0" r="0.85"/>
<circle cx="98.2" cy="514.1" r="0.85"/>
<circle cx="107.6" cy="507.7" r="0.85"/>
<circle cx="84.5" cy="511.1" r="0.85"/>
<circle cx="107.2" cy="514.4" r="0.85"/>
<circle cx="127.0" cy="507.7" r="0.85"/>
<circle cx="101.8" cy="519.7" r="0.85"/>
<circle cx="93.4" cy="511.1" r="0.85"/>
<circle cx="146.5" cy="507.7" r="0.85"/>
<circle cx="88.8" cy="510.8" r="0.85"/>
<circle cx="38.5" cy="512.6" r="0.85"/>
<circle cx="57.6" cy="513.6" r="0.85"/>
<circle cx="50.9" cy="512.6" r="0.85"/>
<circle cx="77.7" cy="508.3" r="0.85"/>
<circle cx="59.8" cy="519.9" r="0.85"/>
<circle cx="113.0" cy="512.7" r="0.85"/>
<circle cx="73.2" cy="509.5" r="0.85"/>
<circle cx="77.0" cy="519.3" r="0.85"/>
<circle cx="85.2" cy="516.1" r="0.85"/>
<circle cx="77.7" cy="513.4" r="0.85"/>
<circle cx="96.2" cy="511.5" r="0.85"/>
<circle cx="76.2" cy="512.1" r="0.85"/>
<circle cx="65.9" cy="516.9" r="0.85"/>
<circle cx="81.3" cy="512.4" r="0.85"/>
<circle cx="91.3" cy="516.4" r="0.85"/>
<circle cx="99.0" cy="516.2" r="0.85"/>
<circle cx="70.8" cy="508.9" r="0.85"/>
<circle cx="82.9" cy="509.6" r="0.85"/>
<circle cx="104.1" cy="515.8" r="0.85"/>
<circle cx="130.3" cy="517.5" r="0.85"/>
<circle cx="109.2" cy="516.3" r="0.85"/>
<circle cx="89.7" cy="510.8" r="0.85"/>
<circle cx="111.7" cy="511.0" r="0.85"/>
<circle cx="89.2" cy="515.3" r="0.85"/>
<circle cx="105.3" cy="513.4" r="0.85"/>
<circle cx="41.5" cy="522.4" r="0.85"/>
<circle cx="61.4" cy="512.8" r="0.85"/>
<circle cx="89.1" cy="507.3" r="0.85"/>
<circle cx="81.1" cy="510.9" r="0.85"/>
<circle cx="76.1" cy="500.8" r="0.85"/>
<circle cx="105.8" cy="522.4" r="0.85"/>
<circle cx="95.7" cy="515.9" r="0.85"/>
<circle cx="93.5" cy="514.6" r="0.85"/>
<circle cx="87.6" cy="513.3" r="0.85"/>
<circle cx="100.2" cy="511.9" r="0.85"/>
<circle cx="96.1" cy="515.1" r="0.85"/>
<circle cx="168.0" cy="522.4" r="0.85"/>
<circle cx="96.4" cy="518.7" r="0.85"/>
<circle cx="66.7" cy="517.3" r="0.85"/>
<circle cx="61.8" cy="527.3" r="0.85"/>
<circle cx="68.5" cy="526.6" r="0.85"/>
<circle cx="84.9" cy="523.9" r="0.85"/>
<circle cx="86.6" cy="514.0" r="0.85"/>
<circle cx="93.9" cy="511.2" r="0.85"/>
<circle cx="97.7" cy="508.8" r="0.85"/>
<circle cx="92.4" cy="514.3" r="0.85"/>
<circle cx="77.8" cy="517.0" r="0.85"/>
<circle cx="132.2" cy="527.3" r="0.85"/>
<circle cx="88.4" cy="510.8" r="0.85"/>
<circle cx="113.0" cy="513.1" r="0.85"/>
<circle cx="86.4" cy="514.9" r="0.85"/>
<circle cx="98.9" cy="511.6" r="0.85"/>
<circle cx="79.8" cy="517.3" r="0.85"/>
<circle cx="26.8" cy="531.3" r="0.85"/>
<circle cx="61.7" cy="516.0" r="0.85"/>
<circle cx="49.6" cy="531.3" r="0.85"/>
<circle cx="83.1" cy="515.9" r="0.85"/>
<circle cx="77.0" cy="531.3" r="0.85"/>
<circle cx="66.1" cy="504.6" r="0.85"/>
<circle cx="68.4" cy="523.3" r="0.85"/>
<circle cx="94.9" cy="528.2" r="0.85"/>
<circle cx="80.3" cy="516.5" r="0.85"/>
<circle cx="125.2" cy="531.3" r="0.85"/>
<circle cx="72.1" cy="515.4" r="0.85"/>
<circle cx="146.0" cy="531.3" r="0.85"/>
<circle cx="79.8" cy="517.6" r="0.85"/>
<circle cx="76.9" cy="514.5" r="0.85"/>
<circle cx="166.7" cy="531.3" r="0.85"/>
<circle cx="67.6" cy="512.1" r="0.85"/>
<circle cx="186.2" cy="531.3" r="0.85"/>
<circle cx="100.2" cy="516.3" r="0.85"/>
</g>
</svg>
<rect x="25.3" y="378.6" width="170.2" height="152.4" fill="none" stroke="#959595" stroke-width="1.15"/>
<path d="M105 396.25L107.0 398.25L105 400.25L103.0 398.25Z" fill="#ee1c24"/>
<text x="107.3" y="400.85" font-family='"Liberation Sans", sans-serif' font-weight="bold" font-size="5.8" fill="#ee1c24" stroke="#ee1c24" stroke-width="0.15">Beijing_2017</text>
<path d="M101.75 403.75L103.75 405.75L101.75 407.75L99.75 405.75Z" fill="#ee1c24"/>
<text x="104.05" y="408.35" font-family='"Liberation Sans", sans-serif' font-weight="bold" font-size="5.8" fill="#ee1c24" stroke="#ee1c24" stroke-width="0.15">Beijing_2018</text>
<path d="M116.25 415.5L118.25 417.5L116.25 419.5L114.25 417.5Z" fill="#ee1c24"/>
<text x="118.55" y="420.1" font-family='"Liberation Sans", sans-serif' font-weight="bold" font-size="5.8" fill="#ee1c24" stroke="#ee1c24" stroke-width="0.15">Hainan_2018</text>
<path d="M84.25 421.0L86.25 423L84.25 425.0L82.25 423Z" fill="#ee1c24"/>
<text x="86.55" y="425.6" font-family='"Liberation Sans", sans-serif' font-weight="bold" font-size="5.8" fill="#ee1c24" stroke="#ee1c24" stroke-width="0.15">Hainan_2017</text>
<path d="M66.75 485.5L68.75 487.5L66.75 489.5L64.75 487.5Z" fill="#ee1c24"/>
<text x="69.05" y="490.1" font-family='"Liberation Sans", sans-serif' font-weight="bold" font-size="5.8" fill="#ee1c24" stroke="#ee1c24" stroke-width="0.15">Anhui_2017</text>
<text x="29.299999999999997" y="387.6" font-size="7.6" font-family='"Liberation Sans", sans-serif' font-weight="bold" fill="#111" stroke="#111" stroke-width="0.25">I</text>
<text x="191.8" y="387.5" text-anchor="end" font-size="7.6" font-family='"Liberation Sans", sans-serif' font-weight="bold" fill="#111" stroke="#111" stroke-width="0.25">II</text>
<text x="26.8" y="528" font-size="8.2" font-family='"Liberation Sans", sans-serif' font-weight="bold" fill="#111" stroke="#111" stroke-width="0.25">III</text>
<text x="193.5" y="528" text-anchor="end" font-size="8.2" font-family='"Liberation Sans", sans-serif' font-weight="bold" fill="#111" stroke="#111" stroke-width="0.25">IV</text>
<path d="M33.5 391.90000000000003L36.2 394.6L33.5 397.3L30.8 394.6Z" fill="#e8141c"/>
<text x="38.5" y="397.1" font-family='"Liberation Sans", sans-serif' font-weight="bold" font-size="7" fill="#222" stroke="#222" stroke-width="0.2">Env</text>
<circle cx="33.5" cy="403.1" r="2.2" fill="#2b4ba6"/>
<text x="37.8" y="405.6" font-family='"Liberation Sans", sans-serif' font-weight="bold" font-size="7" fill="#222" stroke="#222" stroke-width="0.2">Gen</text>
<line x1="47.5" y1="531" x2="47.5" y2="533" stroke="#777" stroke-width="0.6"/>
<text x="47.5" y="537.5" text-anchor="middle" font-family='"Liberation Sans", sans-serif' font-size="6.4" fill="#404040" stroke="#404040" stroke-width="0.2">6</text>
<line x1="95" y1="531" x2="95" y2="533" stroke="#777" stroke-width="0.6"/>
<text x="95" y="537.5" text-anchor="middle" font-family='"Liberation Sans", sans-serif' font-size="6.4" fill="#404040" stroke="#404040" stroke-width="0.2">8</text>
<line x1="143.5" y1="531" x2="143.5" y2="533" stroke="#777" stroke-width="0.6"/>
<text x="143.5" y="537.5" text-anchor="middle" font-family='"Liberation Sans", sans-serif' font-size="6.4" fill="#404040" stroke="#404040" stroke-width="0.2">10</text>
<line x1="190" y1="531" x2="190" y2="533" stroke="#777" stroke-width="0.6"/>
<text x="190" y="537.5" text-anchor="middle" font-family='"Liberation Sans", sans-serif' font-size="6.4" fill="#404040" stroke="#404040" stroke-width="0.2">12</text>
<line x1="23.3" y1="527.4" x2="25.3" y2="527.4" stroke="#777" stroke-width="0.6"/>
<text x="22.8" y="530.6" text-anchor="end" font-family='"Liberation Sans", sans-serif' font-size="6.4" fill="#404040" stroke="#404040" stroke-width="0.2">0.0</text>
<line x1="23.3" y1="494.7" x2="25.3" y2="494.7" stroke="#777" stroke-width="0.6"/>
<text x="22.8" y="497.9" text-anchor="end" font-family='"Liberation Sans", sans-serif' font-size="6.4" fill="#404040" stroke="#404040" stroke-width="0.2">0.5</text>
<line x1="23.3" y1="455.3" x2="25.3" y2="455.3" stroke="#777" stroke-width="0.6"/>
<text x="22.8" y="458.5" text-anchor="end" font-family='"Liberation Sans", sans-serif' font-size="6.4" fill="#404040" stroke="#404040" stroke-width="0.2">1.0</text>
<line x1="23.3" y1="415.3" x2="25.3" y2="415.3" stroke="#777" stroke-width="0.6"/>
<text x="22.8" y="418.5" text-anchor="end" font-family='"Liberation Sans", sans-serif' font-size="6.4" fill="#404040" stroke="#404040" stroke-width="0.2">1.5</text>
<text x="24.4" y="374.3" font-family='"Liberation Sans", sans-serif' font-weight="bold" font-size="8.2" fill="#111" stroke="#111" stroke-width="0.2">(e)</text>
<text x="111.5" y="547" text-anchor="middle" font-family='"Liberation Sans", sans-serif' font-weight="bold" font-size="8.55" fill="#111" stroke="#111" stroke-width="0.15">Linolenic acid (%)</text>
<text transform="translate(12.2 455.6) scale(1.12 1) rotate(-90)" text-anchor="middle" font-family='"Liberation Sans", sans-serif' font-weight="bold" font-size="8.05" fill="#111" stroke="#111" stroke-width="0.15">Weighted average of the absolute scores</text>
</svg></body></html>
